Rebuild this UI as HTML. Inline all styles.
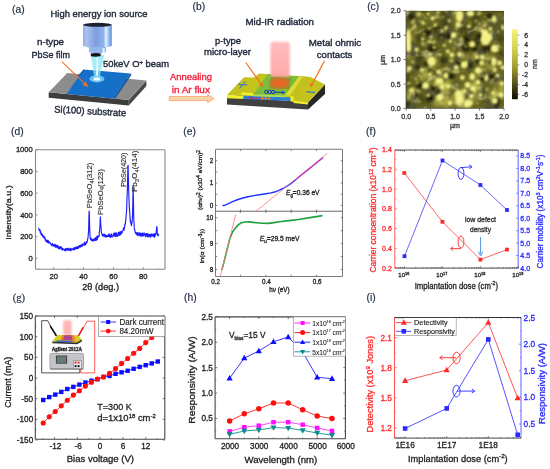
<!DOCTYPE html>
<html><head><meta charset="utf-8"><title>Figure</title>
<style>html,body{margin:0;padding:0;background:#fff;overflow:hidden}svg{display:block}</style>
</head><body>
<svg width="550" height="469" viewBox="0 0 550 469" font-family='"Liberation Sans", Arial, sans-serif'>
<defs><linearGradient id="cyl" x1="0" x2="1" y1="0" y2="0"><stop offset="0" stop-color="#8fb0e6"/><stop offset="0.12" stop-color="#a9c3f0"/><stop offset="0.45" stop-color="#7f9cdc"/><stop offset="0.72" stop-color="#8fb4ec"/><stop offset="0.80" stop-color="#e6f4ff"/><stop offset="0.88" stop-color="#9fc4f2"/><stop offset="1" stop-color="#5f8fd6"/></linearGradient><linearGradient id="beam" x1="0" x2="0" y1="0" y2="1"><stop offset="0" stop-color="#7fe6f6" stop-opacity="0.9"/><stop offset="1" stop-color="#c8f8ff" stop-opacity="0.9"/></linearGradient><radialGradient id="spot"><stop offset="0" stop-color="#ffffff"/><stop offset="0.45" stop-color="#aef4ff"/><stop offset="1" stop-color="#1f6fd0" stop-opacity="0"/></radialGradient><linearGradient id="ir" x1="0" x2="0" y1="0" y2="1"><stop offset="0" stop-color="#ffb6b6" stop-opacity="0.9"/><stop offset="1" stop-color="#ffa4a4" stop-opacity="0.95"/></linearGradient><radialGradient id="hot"><stop offset="0" stop-color="#ff5a1f"/><stop offset="0.6" stop-color="#ff7a3a" stop-opacity="0.8"/><stop offset="1" stop-color="#ff8a4a" stop-opacity="0"/></radialGradient><linearGradient id="cbar" x1="0" x2="0" y1="0" y2="1"><stop offset="0" stop-color="#f6f27c"/><stop offset="0.3" stop-color="#d2ce52"/><stop offset="0.55" stop-color="#9c9832"/><stop offset="0.8" stop-color="#4c4a18"/><stop offset="1" stop-color="#0a0a02"/></linearGradient><filter id="b1" x="-50%" y="-50%" width="200%" height="200%"><feGaussianBlur stdDeviation="0.7"/></filter><filter id="b09" x="-50%" y="-50%" width="200%" height="200%"><feGaussianBlur stdDeviation="0.9"/></filter><filter id="b15" x="-50%" y="-50%" width="200%" height="200%"><feGaussianBlur stdDeviation="1.7"/></filter><filter id="tdark" x="0" y="0" width="100%" height="100%"><feTurbulence type="fractalNoise" baseFrequency="0.11 0.07" numOctaves="2" seed="11" result="n"/><feColorMatrix in="n" type="matrix" values="0 0 0 0 0.09  0 0 0 0 0.09  0 0 0 0 0.03  3.8 0 0 0 -1.9"/></filter><filter id="tlight" x="0" y="0" width="100%" height="100%"><feTurbulence type="fractalNoise" baseFrequency="0.09 0.12" numOctaves="2" seed="23" result="n"/><feColorMatrix in="n" type="matrix" values="0 0 0 0 0.82  0 0 0 0 0.80  0 0 0 0 0.36  0 2.6 0 0 -1.35"/></filter><filter id="b12" x="-50%" y="-50%" width="200%" height="200%"><feGaussianBlur stdDeviation="1.1"/></filter><filter id="soft" x="0" y="0" width="100%" height="100%" filterUnits="userSpaceOnUse"><feGaussianBlur stdDeviation="0.35"/></filter><filter id="b2" x="-50%" y="-50%" width="200%" height="200%"><feGaussianBlur stdDeviation="1.6"/></filter><filter id="b3" x="-50%" y="-50%" width="200%" height="200%"><feGaussianBlur stdDeviation="2.6"/></filter><clipPath id="afmclip"><rect x="406" y="10.8" width="98" height="97.6"/></clipPath></defs>
<rect width="550" height="469" fill="#fff"/>
<g filter="url(#soft)">
<text x="12.10" y="12.65" font-size="10.3" fill="#25324a" stroke="#25324a" stroke-width="0.2">(a)</text>
<text x="50.50" y="17.00" font-size="9.6" fill="#1e2638" stroke="#1e2638" stroke-width="0.38" textLength="97" lengthAdjust="spacingAndGlyphs">High energy ion source</text>
<text x="37.00" y="44.60" font-size="9.6" fill="#1e2638" stroke="#1e2638" stroke-width="0.38" textLength="27" lengthAdjust="spacingAndGlyphs">n-type</text>
<text x="31.50" y="58.00" font-size="9.6" fill="#1e2638" stroke="#1e2638" stroke-width="0.38" textLength="38.5" lengthAdjust="spacingAndGlyphs">PbSe film</text>
<text x="103.00" y="67.00" font-size="9.6" fill="#1e2638" stroke="#1e2638" stroke-width="0.38" textLength="66" lengthAdjust="spacingAndGlyphs">50keV O<tspan font-size="6" dy="-3.5">+</tspan><tspan dy="3.5"> beam</tspan></text>
<text x="54.00" y="112.40" font-size="9.6" fill="#1e2638" stroke="#1e2638" stroke-width="0.38" textLength="72" lengthAdjust="spacingAndGlyphs" transform="rotate(3.2 54.00 112.40)">Si(100) substrate</text>
<polygon points="48.70,92.20 128.80,100.00 128.80,105.40 48.70,97.70" fill="#3d3d3d" stroke="none" stroke-width="0" />
<polygon points="128.80,100.00 146.40,80.50 146.40,85.90 128.80,105.40" fill="#4a4a4a" stroke="none" stroke-width="0" />
<polygon points="48.70,92.20 67.30,73.10 146.40,80.50 128.80,100.00" fill="#8c8c8c" stroke="none" stroke-width="0" />
<polygon points="66.70,93.90 83.60,69.60 130.40,73.40 113.90,98.50" fill="#1570c8" stroke="none" stroke-width="0" />
<polygon points="113.90,98.50 130.40,73.40 131.40,74.80 115.00,98.70" fill="#0b4f98" stroke="none" stroke-width="0" />
<polygon points="77.10,76.60 83.60,69.60 84.60,70.20 78.30,76.80" fill="#0c58a8" stroke="none" stroke-width="0" />
<path d="M83,25 L83,46 Q97.4,51 111.8,46 L111.8,25 Z" fill="url(#cyl)"/>
<path d="M89,47 L89,52.2 Q97.5,55 106,52.2 L106,47 Z" fill="#94b6ec"/>
<rect x="102.5" y="48" width="2.2" height="5" fill="#e8f6ff" opacity="0.9"/>
<ellipse cx="97.4" cy="24.8" rx="14.4" ry="2.0" fill="#1b2233"/>
<polygon points="90.80,55.50 104.20,55.50 99.20,79.00 94.60,79.00" fill="#8fe4f6" stroke="none" stroke-width="0" opacity="0.75" filter="url(#b1)"/>
<path d="M92,55.2 Q97,53 104,55.2 L104,57 Q97,58.5 92,57 Z" fill="#9fe6f8"/>
<path d="M90.8,53.6 Q95.5,52.6 100.6,53.4 L100.6,56 Q95.5,57.2 90.8,56.2 Z" fill="#141414"/>
<line x1="97.60" y1="57.00" x2="96.90" y2="77.50" stroke="#e6fcff" stroke-width="1.8" filter="url(#b1)"/>
<ellipse cx="96.9" cy="78.8" rx="7.5" ry="3.6" fill="#7fd8ff" opacity="0.8" filter="url(#b1)"/>
<ellipse cx="96.9" cy="79.2" rx="3.4" ry="1.4" fill="#ffffff" filter="url(#b1)"/>
<line x1="61.80" y1="61.60" x2="85.00" y2="83.80" stroke="#f07020" stroke-width="1.1" />
<polygon points="88.50,87.30 82.40,84.90 85.90,81.40" fill="#f07020" stroke="none" stroke-width="0" />
<text x="192.60" y="10.15" font-size="10.3" fill="#25324a" stroke="#25324a" stroke-width="0.2">(b)</text>
<text x="245.50" y="25.00" font-size="9.6" fill="#1e2638" stroke="#1e2638" stroke-width="0.38" textLength="68.5" lengthAdjust="spacingAndGlyphs">Mid-IR radiation</text>
<text x="215.00" y="43.60" font-size="9.6" fill="#1e2638" stroke="#1e2638" stroke-width="0.38" textLength="26" lengthAdjust="spacingAndGlyphs">p-type</text>
<text x="204.00" y="54.60" font-size="9.6" fill="#1e2638" stroke="#1e2638" stroke-width="0.38" textLength="47" lengthAdjust="spacingAndGlyphs">micro-layer</text>
<text x="308.70" y="45.80" font-size="9.6" fill="#1e2638" stroke="#1e2638" stroke-width="0.38" textLength="52.5" lengthAdjust="spacingAndGlyphs">Metal ohmic</text>
<text x="316.80" y="58.40" font-size="9.6" fill="#1e2638" stroke="#1e2638" stroke-width="0.38" textLength="35.6" lengthAdjust="spacingAndGlyphs">contacts</text>
<text x="169.90" y="80.40" font-size="9.8" fill="#f5203c" stroke="#f5203c" stroke-width="0.35" textLength="42" lengthAdjust="spacingAndGlyphs">Annealing</text>
<text x="171.70" y="92.50" font-size="9.8" fill="#f5203c" stroke="#f5203c" stroke-width="0.35" textLength="38.2" lengthAdjust="spacingAndGlyphs">in Ar flux</text>
<polygon points="169.20,96.60 207.70,96.60 207.70,94.60 214.10,98.60 207.70,102.60 207.70,100.60 169.20,100.60" fill="#fbd3b0" stroke="#f7a060" stroke-width="0.8" />
<polygon points="227.00,96.00 308.00,102.50 308.00,109.50 227.00,104.50" fill="#3f3f3f" stroke="none" stroke-width="0" />
<polygon points="308.00,102.50 325.00,84.50 325.00,94.00 308.00,109.50" fill="#262626" stroke="none" stroke-width="0" />
<polygon points="227.00,95.00 244.00,77.30 254.00,77.50 259.00,73.50 299.00,76.00 310.50,77.00 325.00,84.50 308.00,102.50" fill="#c4c21e" stroke="none" stroke-width="0" />
<polygon points="268.00,74.10 299.00,76.50 285.00,95.50 253.00,94.50" fill="#7abd3b" stroke="none" stroke-width="0" />
<polygon points="299.00,76.50 303.00,76.70 290.00,96.00 285.00,95.50" fill="#dddb34" stroke="none" stroke-width="0" />
<polygon points="303.00,76.70 310.50,77.00 297.00,97.00 290.00,96.00" fill="#c2c01b" stroke="none" stroke-width="0" />
<polygon points="227.00,95.00 243.50,96.40 243.50,98.90 227.00,98.30" fill="#efef2a" stroke="none" stroke-width="0" />
<polygon points="243.50,95.60 291.00,97.60 291.00,100.90 243.50,98.90" fill="#2a7ed8" stroke="none" stroke-width="0" />
<polygon points="241.50,92.30 253.00,93.00 253.00,95.70 241.50,95.00" fill="#efef2a" stroke="none" stroke-width="0" />
<polygon points="253.00,94.50 285.00,95.50 285.00,97.20 253.00,96.20" fill="#a6de5e" stroke="none" stroke-width="0" />
<polygon points="290.50,96.00 293.50,96.20 293.50,101.50 290.50,101.20" fill="#efef2a" stroke="none" stroke-width="0" />
<polygon points="293.50,100.80 308.00,102.40 308.00,104.60 293.50,103.10" fill="#efef2a" stroke="none" stroke-width="0" />
<rect x="270.4" y="41.8" width="19.4" height="35.5" rx="3" fill="url(#ir)" filter="url(#b12)"/>
<polygon points="271,77 291,77.5 289,89 269,88.5" fill="#b05a20" opacity="0.45" filter="url(#b1)"/>
<ellipse cx="279.5" cy="83.2" rx="9.5" ry="5" fill="#ee6420" opacity="0.9" filter="url(#b15)"/>
<circle cx="266.3" cy="91.8" r="1.65" fill="none" stroke="#1030c0" stroke-width="1.0"/>
<circle cx="269.7" cy="91.9" r="1.65" fill="none" stroke="#1030c0" stroke-width="1.0"/>
<circle cx="273.1" cy="92.0" r="1.65" fill="none" stroke="#1030c0" stroke-width="1.0"/>
<line x1="274.50" y1="92.10" x2="283.00" y2="92.40" stroke="#1030c0" stroke-width="1.0" />
<polygon points="285.20,92.50 282.00,91.00 282.00,93.90" fill="#1030c0" stroke="none" stroke-width="0" />
<ellipse cx="262.4" cy="98.40" rx="1.2" ry="1.4" fill="#f08020"/>
<ellipse cx="265.8" cy="98.55" rx="1.2" ry="1.4" fill="#f08020"/>
<ellipse cx="269.2" cy="98.70" rx="1.2" ry="1.4" fill="#f08020"/>
<line x1="250.50" y1="97.90" x2="261.00" y2="98.30" stroke="#e0206a" stroke-width="0.9" />
<polygon points="248.50,97.80 251.50,96.50 251.50,99.20" fill="#e02030" stroke="none" stroke-width="0" />
<line x1="238.30" y1="84.40" x2="247.50" y2="85.00" stroke="#3a78c4" stroke-width="1.1" />
<line x1="239.60" y1="88.30" x2="245.50" y2="81.50" stroke="#3a78c4" stroke-width="1.1" />
<line x1="306.30" y1="91.60" x2="315.00" y2="92.60" stroke="#3a78c4" stroke-width="1.2" />
<line x1="245.80" y1="62.50" x2="261.30" y2="84.40" stroke="#f07020" stroke-width="1.2" />
<polygon points="263.30,87.60 258.80,84.60 262.50,82.20" fill="#f07020" stroke="none" stroke-width="0" />
<line x1="324.50" y1="60.80" x2="311.80" y2="84.60" stroke="#f07020" stroke-width="1.2" />
<polygon points="310.20,87.60 310.10,82.80 313.70,84.50" fill="#f07020" stroke="none" stroke-width="0" />
<text x="367.20" y="10.15" font-size="10.3" fill="#25324a" stroke="#25324a" stroke-width="0.2">(c)</text>
<g clip-path="url(#afmclip)">
<rect x="406" y="10.8" width="98" height="97.6" fill="#676520"/>
<g filter="url(#b3)">
<ellipse cx="408.3" cy="45" rx="4" ry="14" fill="#c4c054" opacity="0.85"/>
<ellipse cx="459.5" cy="17" rx="3.5" ry="6" fill="#c4c054" opacity="0.85"/>
<ellipse cx="437" cy="92" rx="4" ry="15" fill="#c4c054" opacity="0.85"/>
<ellipse cx="411.5" cy="100" rx="5" ry="9" fill="#c4c054" opacity="0.85"/>
<ellipse cx="502" cy="89" rx="3" ry="10" fill="#c4c054" opacity="0.85"/>
<ellipse cx="462" cy="98" rx="10" ry="9" fill="#c4c054" opacity="0.85"/>
<ellipse cx="445" cy="85" rx="6" ry="8" fill="#c4c054" opacity="0.85"/>
<ellipse cx="475" cy="90" rx="5" ry="10" fill="#c4c054" opacity="0.85"/>
<ellipse cx="432" cy="62" rx="5" ry="5" fill="#c4c054" opacity="0.85"/>
<ellipse cx="445" cy="101" rx="5" ry="6" fill="#c4c054" opacity="0.85"/>
<ellipse cx="470" cy="60" rx="6" ry="5" fill="#c4c054" opacity="0.85"/>
<ellipse cx="490" cy="62" rx="5" ry="6" fill="#c4c054" opacity="0.85"/>
<ellipse cx="425" cy="75" rx="5" ry="4" fill="#c4c054" opacity="0.85"/>
<ellipse cx="480" cy="72" rx="5" ry="4" fill="#c4c054" opacity="0.85"/>
<ellipse cx="494" cy="96" rx="4" ry="6" fill="#c4c054" opacity="0.85"/>
<ellipse cx="411.5" cy="18" rx="4" ry="3" fill="#26250c" opacity="0.8"/>
<ellipse cx="427.5" cy="32.5" rx="4" ry="3" fill="#26250c" opacity="0.8"/>
<ellipse cx="447" cy="14.5" rx="6" ry="3" fill="#26250c" opacity="0.8"/>
<ellipse cx="441" cy="37" rx="4" ry="3" fill="#26250c" opacity="0.8"/>
<ellipse cx="466.7" cy="40" rx="3" ry="3" fill="#26250c" opacity="0.8"/>
<ellipse cx="478" cy="40" rx="3" ry="4" fill="#26250c" opacity="0.8"/>
<ellipse cx="415" cy="46" rx="4" ry="2.5" fill="#26250c" opacity="0.8"/>
<ellipse cx="422" cy="54" rx="4" ry="3" fill="#26250c" opacity="0.8"/>
<ellipse cx="442" cy="61" rx="3" ry="3" fill="#26250c" opacity="0.8"/>
<ellipse cx="469" cy="60" rx="3" ry="3" fill="#26250c" opacity="0.8"/>
<ellipse cx="499.8" cy="39.5" rx="3" ry="4" fill="#26250c" opacity="0.8"/>
<ellipse cx="455" cy="89" rx="3" ry="3" fill="#26250c" opacity="0.8"/>
<ellipse cx="450" cy="95.5" rx="3" ry="3" fill="#26250c" opacity="0.8"/>
<ellipse cx="466" cy="96" rx="3" ry="2.5" fill="#26250c" opacity="0.8"/>
<ellipse cx="481" cy="92" rx="3" ry="3" fill="#26250c" opacity="0.8"/>
<ellipse cx="486" cy="100" rx="3" ry="3" fill="#26250c" opacity="0.8"/>
<ellipse cx="489.5" cy="74.5" rx="3" ry="3" fill="#26250c" opacity="0.8"/>
<ellipse cx="420" cy="100" rx="4" ry="4" fill="#26250c" opacity="0.8"/>
<ellipse cx="476.5" cy="16.7" rx="3" ry="3" fill="#26250c" opacity="0.8"/>
<ellipse cx="489" cy="16" rx="3" ry="3" fill="#26250c" opacity="0.8"/>
<ellipse cx="433" cy="88" rx="3" ry="3" fill="#26250c" opacity="0.8"/>
<ellipse cx="430" cy="100" rx="3" ry="5" fill="#26250c" opacity="0.8"/>
<ellipse cx="406" cy="80" rx="2" ry="10" fill="#26250c" opacity="0.8"/>
<ellipse cx="446" cy="24" rx="5" ry="4" fill="#26250c" opacity="0.8"/>
<ellipse cx="470" cy="32" rx="4" ry="5" fill="#26250c" opacity="0.8"/>
<ellipse cx="430" cy="47" rx="6" ry="3" fill="#26250c" opacity="0.8"/>
<ellipse cx="465" cy="28" rx="3" ry="3" fill="#26250c" opacity="0.8"/>
<ellipse cx="498" cy="30" rx="3" ry="4" fill="#26250c" opacity="0.8"/>
<ellipse cx="475" cy="22" rx="3" ry="3" fill="#26250c" opacity="0.8"/>
<ellipse cx="418" cy="38" rx="4" ry="3" fill="#26250c" opacity="0.8"/>
<ellipse cx="437" cy="52" rx="3" ry="3" fill="#26250c" opacity="0.8"/>
<ellipse cx="460" cy="45" rx="4" ry="3" fill="#26250c" opacity="0.8"/>
<ellipse cx="484" cy="52" rx="4" ry="3" fill="#26250c" opacity="0.8"/>
<ellipse cx="500" cy="55" rx="3" ry="4" fill="#26250c" opacity="0.8"/>
<ellipse cx="419" cy="60" rx="3" ry="4" fill="#26250c" opacity="0.8"/>
</g>
<rect x="406" y="10.8" width="98" height="1.6" fill="#4e4c1e" filter="url(#b1)"/>
<rect x="406" y="10.8" width="98" height="97.6" filter="url(#tlight)" opacity="0.8"/>
<rect x="406" y="10.8" width="98" height="97.6" filter="url(#tdark)" opacity="1"/>
<g filter="url(#b15)">
<ellipse cx="427.5" cy="32.5" rx="2.86" ry="2.42" fill="#101004"/>
<ellipse cx="437" cy="29" rx="2.86" ry="2.42" fill="#101004"/>
<ellipse cx="447.9" cy="36.1" rx="2.99" ry="2.53" fill="#101004"/>
<ellipse cx="441.5" cy="36.5" rx="2.60" ry="2.20" fill="#101004"/>
<ellipse cx="466.7" cy="39" rx="2.99" ry="2.53" fill="#101004"/>
<ellipse cx="459.5" cy="29.9" rx="2.08" ry="1.76" fill="#101004"/>
<ellipse cx="480" cy="36" rx="3.12" ry="2.64" fill="#101004"/>
<ellipse cx="476.5" cy="42" rx="2.60" ry="2.20" fill="#101004"/>
<ellipse cx="489.9" cy="16.3" rx="2.34" ry="1.98" fill="#101004"/>
<ellipse cx="431.8" cy="49.3" rx="2.99" ry="2.53" fill="#101004"/>
<ellipse cx="426" cy="63.8" rx="2.47" ry="2.09" fill="#101004"/>
<ellipse cx="418" cy="67.4" rx="2.47" ry="2.09" fill="#101004"/>
<ellipse cx="459.1" cy="62.7" rx="2.60" ry="2.20" fill="#101004"/>
<ellipse cx="464.7" cy="47.8" rx="3.12" ry="2.64" fill="#101004"/>
<ellipse cx="474.4" cy="48.5" rx="2.73" ry="2.31" fill="#101004"/>
<ellipse cx="484.5" cy="48.5" rx="2.47" ry="2.09" fill="#101004"/>
<ellipse cx="488.9" cy="47.8" rx="2.47" ry="2.09" fill="#101004"/>
<ellipse cx="477.3" cy="61.6" rx="2.47" ry="2.09" fill="#101004"/>
<ellipse cx="488.9" cy="62.3" rx="2.47" ry="2.09" fill="#101004"/>
<ellipse cx="471" cy="65.5" rx="2.34" ry="1.98" fill="#101004"/>
<ellipse cx="419.5" cy="85.6" rx="3.12" ry="2.64" fill="#101004"/>
<ellipse cx="430.4" cy="98" rx="3.38" ry="2.86" fill="#101004"/>
<ellipse cx="417.3" cy="95.8" rx="2.47" ry="2.09" fill="#101004"/>
<ellipse cx="433.6" cy="88.4" rx="2.47" ry="2.09" fill="#101004"/>
<ellipse cx="451.5" cy="76.2" rx="2.99" ry="2.53" fill="#101004"/>
<ellipse cx="437.7" cy="92" rx="1.82" ry="1.54" fill="#101004"/>
<ellipse cx="491" cy="76.2" rx="2.47" ry="2.09" fill="#101004"/>
<ellipse cx="482.3" cy="79" rx="2.47" ry="2.09" fill="#101004"/>
<ellipse cx="407" cy="102" rx="2.08" ry="1.76" fill="#101004"/>
<ellipse cx="407" cy="106" rx="2.08" ry="1.76" fill="#101004"/>
<ellipse cx="498.8" cy="100" rx="2.08" ry="1.76" fill="#101004"/>
<ellipse cx="497.4" cy="103" rx="2.08" ry="1.76" fill="#101004"/>
<ellipse cx="496.3" cy="106" rx="1.82" ry="1.54" fill="#101004"/>
<ellipse cx="411" cy="16" rx="2.60" ry="2.20" fill="#101004"/>
<ellipse cx="444" cy="60" rx="2.34" ry="1.98" fill="#101004"/>
<ellipse cx="467" cy="49" rx="2.60" ry="2.20" fill="#101004"/>
</g>
<g filter="url(#b09)">
<circle cx="413" cy="22.3" r="2" fill="#d2ce6c" opacity="0.85"/>
<circle cx="418.8" cy="14" r="2.6" fill="#d2ce6c" opacity="0.85"/>
<circle cx="451.5" cy="60.5" r="2" fill="#d2ce6c" opacity="0.85"/>
<circle cx="412.6" cy="62" r="1.8" fill="#d2ce6c" opacity="0.85"/>
<circle cx="416" cy="32.5" r="1.3" fill="#d2ce6c" opacity="0.85"/>
<circle cx="424.2" cy="34" r="1.3" fill="#d2ce6c" opacity="0.85"/>
<circle cx="428.9" cy="28.5" r="1.2" fill="#d2ce6c" opacity="0.85"/>
<circle cx="475.8" cy="20.9" r="1.5" fill="#d2ce6c" opacity="0.85"/>
<circle cx="479.4" cy="23.8" r="1.5" fill="#d2ce6c" opacity="0.85"/>
<circle cx="484.5" cy="26.3" r="1.5" fill="#d2ce6c" opacity="0.85"/>
<circle cx="487" cy="89.2" r="1.5" fill="#d2ce6c" opacity="0.85"/>
<circle cx="457" cy="84.9" r="1.5" fill="#d2ce6c" opacity="0.85"/>
<circle cx="415.9" cy="78.4" r="1.5" fill="#d2ce6c" opacity="0.85"/>
<circle cx="417.3" cy="82.7" r="1.5" fill="#d2ce6c" opacity="0.85"/>
<circle cx="488.5" cy="59" r="1.5" fill="#d2ce6c" opacity="0.85"/>
<circle cx="479.4" cy="12.9" r="2" fill="#d2ce6c" opacity="0.85"/>
</g>
<g filter="url(#b09)">
<circle cx="432.6" cy="18.3" r="2.09" fill="#f6f28a"/>
<circle cx="428.2" cy="14" r="1.42" fill="#f6f28a"/>
<circle cx="423.1" cy="23" r="1.42" fill="#f6f28a"/>
<circle cx="435.5" cy="24.9" r="1.71" fill="#f6f28a"/>
<circle cx="414.8" cy="26" r="1.42" fill="#f6f28a"/>
<circle cx="431.1" cy="37.2" r="1.42" fill="#f6f28a"/>
<circle cx="422.8" cy="38.6" r="1.42" fill="#f6f28a"/>
<circle cx="429.7" cy="41.2" r="1.42" fill="#f6f28a"/>
<circle cx="434" cy="41.9" r="1.42" fill="#f6f28a"/>
<circle cx="458" cy="24.5" r="2.38" fill="#f6f28a"/>
<circle cx="468.9" cy="26.3" r="1.90" fill="#f6f28a"/>
<circle cx="469.5" cy="14" r="2.38" fill="#f6f28a"/>
<circle cx="453.7" cy="35" r="2.85" fill="#f6f28a"/>
<circle cx="446" cy="27.8" r="1.71" fill="#f6f28a"/>
<circle cx="449.3" cy="20.9" r="1.42" fill="#f6f28a"/>
<circle cx="441.7" cy="31" r="1.42" fill="#f6f28a"/>
<circle cx="450.4" cy="41.2" r="1.71" fill="#f6f28a"/>
<circle cx="437.7" cy="12" r="1.42" fill="#f6f28a"/>
<circle cx="471" cy="13" r="2.85" fill="#f6f28a"/>
<circle cx="490.3" cy="28.9" r="1.90" fill="#f6f28a"/>
<circle cx="503" cy="27.8" r="1.90" fill="#f6f28a"/>
<circle cx="416.6" cy="49.6" r="2.09" fill="#f6f28a"/>
<circle cx="434" cy="47.4" r="1.42" fill="#f6f28a"/>
<circle cx="422.8" cy="43.8" r="1.42" fill="#f6f28a"/>
<circle cx="409.4" cy="68.5" r="2.38" fill="#f6f28a"/>
<circle cx="422" cy="70" r="2.09" fill="#f6f28a"/>
<circle cx="430" cy="74.6" r="1.90" fill="#f6f28a"/>
<circle cx="438" cy="72" r="1.42" fill="#f6f28a"/>
<circle cx="451.9" cy="55" r="2.38" fill="#f6f28a"/>
<circle cx="459.5" cy="54.3" r="2.38" fill="#f6f28a"/>
<circle cx="447.9" cy="51.4" r="1.90" fill="#f6f28a"/>
<circle cx="464.2" cy="64.8" r="3.32" fill="#f6f28a"/>
<circle cx="456.2" cy="67.4" r="2.38" fill="#f6f28a"/>
<circle cx="439.9" cy="54.7" r="1.42" fill="#f6f28a"/>
<circle cx="444.3" cy="45.3" r="1.42" fill="#f6f28a"/>
<circle cx="438.8" cy="71.7" r="1.90" fill="#f6f28a"/>
<circle cx="446" cy="74.3" r="1.90" fill="#f6f28a"/>
<circle cx="494.7" cy="48.5" r="3.80" fill="#f6f28a"/>
<circle cx="472.2" cy="44.2" r="2.85" fill="#f6f28a"/>
<circle cx="476.9" cy="56.9" r="2.09" fill="#f6f28a"/>
<circle cx="482.3" cy="57.2" r="2.38" fill="#f6f28a"/>
<circle cx="499.7" cy="63" r="2.38" fill="#f6f28a"/>
<circle cx="481.6" cy="63" r="2.38" fill="#f6f28a"/>
<circle cx="478" cy="70.3" r="2.85" fill="#f6f28a"/>
<circle cx="494.7" cy="70" r="2.09" fill="#f6f28a"/>
<circle cx="503" cy="67.4" r="1.90" fill="#f6f28a"/>
<circle cx="472.2" cy="75" r="1.90" fill="#f6f28a"/>
<circle cx="425.7" cy="85.6" r="3.32" fill="#f6f28a"/>
<circle cx="411.5" cy="90.3" r="2.38" fill="#f6f28a"/>
<circle cx="428.2" cy="95.4" r="1.71" fill="#f6f28a"/>
<circle cx="439.9" cy="80.9" r="2.85" fill="#f6f28a"/>
<circle cx="445.7" cy="76.2" r="2.38" fill="#f6f28a"/>
<circle cx="462.4" cy="77.6" r="2.38" fill="#f6f28a"/>
<circle cx="467.5" cy="84.9" r="2.85" fill="#f6f28a"/>
<circle cx="458.8" cy="94" r="3.80" fill="#f6f28a"/>
<circle cx="459.5" cy="100.1" r="3.80" fill="#f6f28a"/>
<circle cx="467.5" cy="103.7" r="3.80" fill="#f6f28a"/>
<circle cx="439.9" cy="97.2" r="3.32" fill="#f6f28a"/>
<circle cx="442" cy="87" r="2.38" fill="#f6f28a"/>
<circle cx="448.2" cy="86.3" r="1.90" fill="#f6f28a"/>
<circle cx="464.6" cy="91" r="1.90" fill="#f6f28a"/>
<circle cx="450" cy="103" r="2.38" fill="#f6f28a"/>
<circle cx="472.2" cy="76.9" r="2.85" fill="#f6f28a"/>
<circle cx="478" cy="82.3" r="2.38" fill="#f6f28a"/>
<circle cx="472.9" cy="88.5" r="2.85" fill="#f6f28a"/>
<circle cx="471.5" cy="96.1" r="2.38" fill="#f6f28a"/>
<circle cx="470.7" cy="103" r="2.38" fill="#f6f28a"/>
<circle cx="480.5" cy="95" r="1.90" fill="#f6f28a"/>
<circle cx="493.6" cy="92.9" r="1.90" fill="#f6f28a"/>
<circle cx="494.7" cy="100.8" r="2.85" fill="#f6f28a"/>
<circle cx="501.2" cy="95" r="2.38" fill="#f6f28a"/>
<circle cx="501.9" cy="83.4" r="1.90" fill="#f6f28a"/>
<circle cx="497.6" cy="75.5" r="1.90" fill="#f6f28a"/>
<circle cx="457.1" cy="88.6" r="1.08" fill="#e8e47a"/>
<circle cx="434.8" cy="84.8" r="0.98" fill="#e8e47a"/>
<circle cx="470.5" cy="22.5" r="0.71" fill="#e8e47a"/>
<circle cx="443.9" cy="82.9" r="0.80" fill="#e8e47a"/>
<circle cx="455.2" cy="42.2" r="1.04" fill="#e8e47a"/>
<circle cx="497.7" cy="50.2" r="1.10" fill="#e8e47a"/>
<circle cx="413.0" cy="89.2" r="1.05" fill="#e8e47a"/>
<circle cx="421.5" cy="79.0" r="0.92" fill="#e8e47a"/>
<circle cx="498.7" cy="32.0" r="0.92" fill="#e8e47a"/>
<circle cx="491.7" cy="72.7" r="0.82" fill="#e8e47a"/>
<circle cx="414.9" cy="101.3" r="0.89" fill="#e8e47a"/>
<circle cx="502.6" cy="25.5" r="1.02" fill="#e8e47a"/>
<circle cx="485.1" cy="99.4" r="0.71" fill="#e8e47a"/>
<circle cx="442.7" cy="16.9" r="1.00" fill="#e8e47a"/>
<circle cx="441.0" cy="103.2" r="0.85" fill="#e8e47a"/>
<circle cx="481.3" cy="94.4" r="0.80" fill="#e8e47a"/>
<circle cx="460.5" cy="103.0" r="0.91" fill="#e8e47a"/>
<circle cx="441.5" cy="37.4" r="1.01" fill="#e8e47a"/>
<circle cx="425.5" cy="69.4" r="0.92" fill="#e8e47a"/>
<circle cx="460.1" cy="24.3" r="0.96" fill="#e8e47a"/>
<circle cx="495.0" cy="42.3" r="0.83" fill="#e8e47a"/>
<circle cx="494.3" cy="66.9" r="0.81" fill="#e8e47a"/>
<circle cx="407.9" cy="83.6" r="0.84" fill="#e8e47a"/>
<circle cx="451.8" cy="37.9" r="0.95" fill="#e8e47a"/>
<circle cx="477.0" cy="41.4" r="0.73" fill="#e8e47a"/>
<circle cx="501.7" cy="98.5" r="0.71" fill="#e8e47a"/>
<circle cx="461.2" cy="77.2" r="0.86" fill="#e8e47a"/>
<circle cx="477.2" cy="103.2" r="0.94" fill="#e8e47a"/>
<circle cx="444.6" cy="30.6" r="0.80" fill="#e8e47a"/>
<circle cx="421.5" cy="22.5" r="0.78" fill="#e8e47a"/>
<circle cx="487.8" cy="63.0" r="1.02" fill="#e8e47a"/>
<circle cx="495.3" cy="89.0" r="0.72" fill="#e8e47a"/>
<circle cx="495.9" cy="20.8" r="1.01" fill="#e8e47a"/>
<circle cx="487.5" cy="74.5" r="0.86" fill="#e8e47a"/>
<circle cx="414.2" cy="20.1" r="0.95" fill="#e8e47a"/>
<circle cx="430.2" cy="62.6" r="0.81" fill="#e8e47a"/>
<circle cx="422.7" cy="40.0" r="0.99" fill="#e8e47a"/>
<circle cx="453.7" cy="49.3" r="0.89" fill="#e8e47a"/>
<circle cx="460.2" cy="61.0" r="0.88" fill="#e8e47a"/>
<circle cx="499.9" cy="83.4" r="0.79" fill="#e8e47a"/>
<circle cx="437.6" cy="29.9" r="0.85" fill="#e8e47a"/>
<circle cx="409.7" cy="82.7" r="0.93" fill="#e8e47a"/>
<circle cx="447.6" cy="96.9" r="0.83" fill="#e8e47a"/>
<circle cx="462.5" cy="100.3" r="0.92" fill="#e8e47a"/>
<circle cx="465.8" cy="47.0" r="1.10" fill="#e8e47a"/>
<ellipse cx="408.3" cy="40" rx="2.4" ry="11" fill="#f4f088"/>
<ellipse cx="408.5" cy="47" rx="2.6" ry="5" fill="#f4f088"/>
<ellipse cx="459.5" cy="16" rx="3.5" ry="5.5" fill="#f4f088"/>
<ellipse cx="494" cy="19" rx="2.2" ry="3.5" fill="#f4f088"/>
<ellipse cx="431.5" cy="61.2" rx="4" ry="4.8" fill="#f4f088"/>
<ellipse cx="493.9" cy="61.6" rx="2.5" ry="4" fill="#f4f088"/>
<ellipse cx="486.3" cy="78" rx="2" ry="3" fill="#f4f088"/>
<ellipse cx="437.5" cy="81" rx="2" ry="3" fill="#f4f088"/>
<polygon points="480.5,29 486.5,29.5 489,33 492.5,37.5 490,42 487.5,45 482.5,45 480.5,40 481.5,34" fill="#f4f088"/>
</g>
</g>
<line x1="403.60" y1="108.40" x2="406.00" y2="108.40" stroke="#444" stroke-width="0.7" />
<text x="400.60" y="110.90" font-size="7" fill="#333" stroke="#333" stroke-width="0.3" text-anchor="end">0.0</text>
<line x1="406.20" y1="108.40" x2="406.20" y2="110.60" stroke="#444" stroke-width="0.7" />
<text x="406.20" y="119.20" font-size="7" fill="#333" stroke="#333" stroke-width="0.3" text-anchor="middle">0.0</text>
<line x1="403.60" y1="84.00" x2="406.00" y2="84.00" stroke="#444" stroke-width="0.7" />
<text x="400.60" y="86.50" font-size="7" fill="#333" stroke="#333" stroke-width="0.3" text-anchor="end">0.5</text>
<line x1="430.65" y1="108.40" x2="430.65" y2="110.60" stroke="#444" stroke-width="0.7" />
<text x="430.65" y="119.20" font-size="7" fill="#333" stroke="#333" stroke-width="0.3" text-anchor="middle">0.5</text>
<line x1="403.60" y1="59.60" x2="406.00" y2="59.60" stroke="#444" stroke-width="0.7" />
<text x="400.60" y="62.10" font-size="7" fill="#333" stroke="#333" stroke-width="0.3" text-anchor="end">1.0</text>
<line x1="455.10" y1="108.40" x2="455.10" y2="110.60" stroke="#444" stroke-width="0.7" />
<text x="455.10" y="119.20" font-size="7" fill="#333" stroke="#333" stroke-width="0.3" text-anchor="middle">1.0</text>
<line x1="403.60" y1="35.20" x2="406.00" y2="35.20" stroke="#444" stroke-width="0.7" />
<text x="400.60" y="37.70" font-size="7" fill="#333" stroke="#333" stroke-width="0.3" text-anchor="end">1.5</text>
<line x1="479.55" y1="108.40" x2="479.55" y2="110.60" stroke="#444" stroke-width="0.7" />
<text x="479.55" y="119.20" font-size="7" fill="#333" stroke="#333" stroke-width="0.3" text-anchor="middle">1.5</text>
<line x1="403.60" y1="10.80" x2="406.00" y2="10.80" stroke="#444" stroke-width="0.7" />
<text x="400.60" y="13.30" font-size="7" fill="#333" stroke="#333" stroke-width="0.3" text-anchor="end">2.0</text>
<line x1="504.00" y1="108.40" x2="504.00" y2="110.60" stroke="#444" stroke-width="0.7" />
<text x="504.00" y="119.20" font-size="7" fill="#333" stroke="#333" stroke-width="0.3" text-anchor="middle">2.0</text>
<line x1="406.00" y1="10.80" x2="406.00" y2="108.40" stroke="#444" stroke-width="0.7" />
<line x1="406.00" y1="108.40" x2="504.00" y2="108.40" stroke="#444" stroke-width="0.7" />
<text x="455.00" y="128.10" font-size="7" fill="#333" stroke="#333" stroke-width="0.3" text-anchor="middle">µm</text>
<text x="385.30" y="59.90" font-size="7" fill="#333" stroke="#333" stroke-width="0.3" text-anchor="middle" transform="rotate(-90 385.30 59.90)">µm</text>
<rect x="512" y="29.4" width="5.8" height="69.8" fill="url(#cbar)"/>
<line x1="517.80" y1="35.20" x2="519.20" y2="35.20" stroke="#444" stroke-width="0.6" />
<text x="528.00" y="37.50" font-size="6.8" fill="#333" stroke="#333" stroke-width="0.3" text-anchor="end">6</text>
<line x1="517.80" y1="45.08" x2="519.20" y2="45.08" stroke="#444" stroke-width="0.6" />
<text x="528.00" y="47.38" font-size="6.8" fill="#333" stroke="#333" stroke-width="0.3" text-anchor="end">4</text>
<line x1="517.80" y1="54.96" x2="519.20" y2="54.96" stroke="#444" stroke-width="0.6" />
<text x="528.00" y="57.26" font-size="6.8" fill="#333" stroke="#333" stroke-width="0.3" text-anchor="end">2</text>
<line x1="517.80" y1="64.84" x2="519.20" y2="64.84" stroke="#444" stroke-width="0.6" />
<text x="528.00" y="67.14" font-size="6.8" fill="#333" stroke="#333" stroke-width="0.3" text-anchor="end">0</text>
<line x1="517.80" y1="74.72" x2="519.20" y2="74.72" stroke="#444" stroke-width="0.6" />
<text x="528.00" y="77.02" font-size="6.8" fill="#333" stroke="#333" stroke-width="0.3" text-anchor="end">-2</text>
<line x1="517.80" y1="84.60" x2="519.20" y2="84.60" stroke="#444" stroke-width="0.6" />
<text x="528.00" y="86.90" font-size="6.8" fill="#333" stroke="#333" stroke-width="0.3" text-anchor="end">-4</text>
<line x1="517.80" y1="94.48" x2="519.20" y2="94.48" stroke="#444" stroke-width="0.6" />
<text x="528.00" y="96.78" font-size="6.8" fill="#333" stroke="#333" stroke-width="0.3" text-anchor="end">-6</text>
<text x="537.10" y="64.10" font-size="7.5" fill="#333" stroke="#333" stroke-width="0.3" text-anchor="middle" textLength="9.6" lengthAdjust="spacingAndGlyphs" transform="rotate(-90 537.10 64.10)">nm</text>
<text x="11.10" y="134.95" font-size="10.3" fill="#25324a" stroke="#25324a" stroke-width="0.2">(d)</text>
<line x1="35.50" y1="149.70" x2="165.00" y2="149.70" stroke="#888" stroke-width="1.1" />
<line x1="35.50" y1="269.30" x2="165.00" y2="269.30" stroke="#888" stroke-width="1.1" />
<line x1="35.50" y1="149.70" x2="35.50" y2="269.30" stroke="#888" stroke-width="1.1" />
<line x1="165.00" y1="149.70" x2="165.00" y2="269.30" stroke="#888" stroke-width="1.1" />
<line x1="35.50" y1="258.50" x2="37.70" y2="258.50" stroke="#888" stroke-width="0.8" />
<text x="32.80" y="261.20" font-size="7.6" fill="#222" stroke="#222" stroke-width="0.3" text-anchor="end">0</text>
<line x1="35.50" y1="236.74" x2="37.70" y2="236.74" stroke="#888" stroke-width="0.8" />
<text x="32.80" y="239.44" font-size="7.6" fill="#222" stroke="#222" stroke-width="0.3" text-anchor="end">200</text>
<line x1="35.50" y1="214.98" x2="37.70" y2="214.98" stroke="#888" stroke-width="0.8" />
<text x="32.80" y="217.68" font-size="7.6" fill="#222" stroke="#222" stroke-width="0.3" text-anchor="end">400</text>
<line x1="35.50" y1="193.22" x2="37.70" y2="193.22" stroke="#888" stroke-width="0.8" />
<text x="32.80" y="195.92" font-size="7.6" fill="#222" stroke="#222" stroke-width="0.3" text-anchor="end">600</text>
<line x1="35.50" y1="171.46" x2="37.70" y2="171.46" stroke="#888" stroke-width="0.8" />
<text x="32.80" y="174.16" font-size="7.6" fill="#222" stroke="#222" stroke-width="0.3" text-anchor="end">800</text>
<line x1="35.50" y1="149.70" x2="37.70" y2="149.70" stroke="#888" stroke-width="0.8" />
<text x="32.80" y="152.40" font-size="7.6" fill="#222" stroke="#222" stroke-width="0.3" text-anchor="end">1000</text>
<line x1="53.70" y1="269.30" x2="53.70" y2="267.10" stroke="#888" stroke-width="0.8" />
<text x="53.70" y="279.20" font-size="7.6" fill="#222" stroke="#222" stroke-width="0.3" text-anchor="middle">20</text>
<line x1="83.57" y1="269.30" x2="83.57" y2="267.10" stroke="#888" stroke-width="0.8" />
<text x="83.57" y="279.20" font-size="7.6" fill="#222" stroke="#222" stroke-width="0.3" text-anchor="middle">40</text>
<line x1="113.43" y1="269.30" x2="113.43" y2="267.10" stroke="#888" stroke-width="0.8" />
<text x="113.43" y="279.20" font-size="7.6" fill="#222" stroke="#222" stroke-width="0.3" text-anchor="middle">60</text>
<line x1="143.30" y1="269.30" x2="143.30" y2="267.10" stroke="#888" stroke-width="0.8" />
<text x="143.30" y="279.20" font-size="7.6" fill="#222" stroke="#222" stroke-width="0.3" text-anchor="middle">80</text>
<line x1="38.77" y1="269.30" x2="38.77" y2="268.10" stroke="#888" stroke-width="0.7" />
<line x1="68.63" y1="269.30" x2="68.63" y2="268.10" stroke="#888" stroke-width="0.7" />
<line x1="98.50" y1="269.30" x2="98.50" y2="268.10" stroke="#888" stroke-width="0.7" />
<line x1="128.37" y1="269.30" x2="128.37" y2="268.10" stroke="#888" stroke-width="0.7" />
<line x1="158.23" y1="269.30" x2="158.23" y2="268.10" stroke="#888" stroke-width="0.7" />
<text x="11.50" y="212.40" font-size="8" fill="#222" stroke="#222" stroke-width="0.3" text-anchor="middle" textLength="54.5" lengthAdjust="spacingAndGlyphs" transform="rotate(-90 11.50 212.40)">Intensity(a.u.)</text>
<text x="100.60" y="290.20" font-size="8.8" fill="#222" stroke="#222" stroke-width="0.3" text-anchor="middle" textLength="36.8" lengthAdjust="spacingAndGlyphs">2θ (deg.)</text>
<polyline points="38.60,227.88 38.85,229.25 39.10,229.19 39.35,230.35 39.60,230.87 39.85,229.65 40.10,229.95 40.35,232.88 40.60,231.61 40.85,231.99 41.10,234.73 41.35,233.61 41.60,235.12 41.85,234.38 42.10,235.21 42.35,234.09 42.60,235.88 42.85,236.92 43.10,236.23 43.35,237.22 43.60,237.35 43.85,235.87 44.10,238.30 44.35,238.14 44.60,237.61 44.85,237.14 45.10,239.98 45.35,239.14 45.60,240.22 45.85,241.04 46.10,240.76 46.35,241.56 46.60,240.16 46.85,241.55 47.10,240.66 47.35,242.31 47.60,242.32 47.85,240.15 48.10,240.44 48.35,240.86 48.60,243.28 48.85,241.87 49.10,242.62 49.35,241.82 49.60,242.62 49.85,242.43 50.10,242.50 50.35,243.38 50.60,243.56 50.85,244.69 51.10,244.20 51.35,245.12 51.60,245.04 51.85,245.57 52.10,244.73 52.35,243.33 52.60,245.55 52.85,245.99 53.10,245.93 53.35,245.05 53.60,245.61 53.85,244.23 54.10,246.21 54.35,245.56 54.60,244.82 54.85,244.28 55.10,246.78 55.35,247.31 55.60,244.73 55.85,246.99 56.10,245.95 56.35,245.29 56.60,245.85 56.85,247.39 57.10,247.80 57.35,245.42 57.60,247.23 57.85,245.62 58.10,247.74 58.35,246.68 58.60,248.43 58.85,248.82 59.10,247.50 59.35,249.08 59.60,247.11 59.85,246.51 60.10,248.18 60.35,246.57 60.60,247.17 60.85,247.90 61.10,248.61 61.35,247.35 61.60,247.11 61.85,249.68 62.10,248.12 62.35,250.14 62.60,250.01 62.85,248.50 63.10,248.80 63.35,249.03 63.60,249.45 63.85,249.36 64.10,249.30 64.35,249.53 64.60,250.54 64.85,249.29 65.10,249.12 65.35,250.03 65.60,248.64 65.85,248.88 66.10,250.96 66.35,249.64 66.60,249.77 66.85,248.21 67.10,249.47 67.35,250.01 67.60,248.39 67.85,250.18 68.10,250.20 68.35,248.46 68.60,250.14 68.85,249.64 69.10,250.25 69.35,249.25 69.60,250.29 69.85,250.36 70.10,248.19 70.35,248.28 70.60,250.10 70.85,250.94 71.10,248.78 71.35,249.37 71.60,249.76 71.85,248.91 72.10,249.02 72.35,248.84 72.60,248.99 72.85,249.64 73.10,248.73 73.35,248.89 73.60,249.98 73.85,247.64 74.10,249.16 74.35,249.55 74.60,248.18 74.85,247.81 75.10,249.45 75.35,247.65 75.60,247.39 75.85,248.03 76.10,248.72 76.35,246.82 76.60,247.38 76.85,247.31 77.10,248.71 77.35,247.42 77.60,248.56 77.85,246.40 78.10,246.80 78.35,247.63 78.60,248.23 78.85,246.80 79.10,245.99 79.35,245.55 79.60,246.64 79.85,245.49 80.10,247.21 80.35,247.17 80.60,245.07 80.85,245.22 81.10,246.68 81.35,246.04 81.60,246.40 81.85,244.88 82.10,244.10 82.35,244.45 82.60,245.81 82.85,244.11 83.10,244.19 83.35,244.26 83.60,244.12 83.85,243.94 84.10,245.32 84.35,242.87 84.60,242.26 84.85,244.92 85.10,244.56 85.35,244.70 85.60,242.85 85.85,244.19 86.10,243.90 86.35,241.53 86.60,242.82 86.85,242.75 87.10,241.82 87.35,240.86 87.60,239.47 87.85,238.61 88.10,236.66 88.35,233.42 88.60,229.87 88.85,219.64 89.10,210.97 89.35,212.60 89.60,226.16 89.85,232.47 90.10,236.76 90.35,238.59 90.60,239.69 90.85,239.36 91.10,238.07 91.35,240.51 91.60,238.93 91.85,239.40 92.10,240.53 92.35,240.11 92.60,239.76 92.85,241.29 93.10,240.26 93.35,239.38 93.60,239.04 93.85,240.79 94.10,239.55 94.35,240.37 94.60,238.98 94.85,238.42 95.10,239.37 95.35,240.44 95.60,237.62 95.85,240.10 96.10,240.52 96.35,239.91 96.60,239.84 96.85,236.27 97.10,238.71 97.35,239.52 97.60,235.91 97.85,236.62 98.10,236.34 98.35,237.12 98.60,236.28 98.85,235.95 99.10,236.47 99.35,232.06 99.60,230.40 99.85,227.50 100.10,222.31 100.35,216.77 100.60,221.57 100.85,226.69 101.10,227.89 101.35,232.21 101.60,232.86 101.85,233.69 102.10,234.34 102.35,235.88 102.60,235.81 102.85,234.97 103.10,234.33 103.35,235.00 103.60,234.21 103.85,236.07 104.10,236.77 104.35,235.38 104.60,234.14 104.85,234.56 105.10,235.38 105.35,236.35 105.60,237.09 105.85,235.39 106.10,237.15 106.35,236.39 106.60,235.57 106.85,235.30 107.10,235.80 107.35,236.65 107.60,235.44 107.85,236.57 108.10,235.57 108.35,234.64 108.60,235.84 108.85,236.48 109.10,233.84 109.35,235.29 109.60,235.27 109.85,237.15 110.10,237.36 110.35,234.98 110.60,237.16 110.85,236.69 111.10,234.44 111.35,235.27 111.60,233.81 111.85,236.69 112.10,236.03 112.35,236.95 112.60,236.52 112.85,235.97 113.10,236.22 113.35,235.47 113.60,233.51 113.85,235.51 114.10,233.03 114.35,233.58 114.60,236.19 114.85,233.09 115.10,233.25 115.35,233.24 115.60,236.48 115.85,233.49 116.10,232.79 116.35,236.17 116.60,233.10 116.85,236.08 117.10,235.31 117.35,235.93 117.60,236.36 117.85,234.72 118.10,235.57 118.35,232.30 118.60,235.29 118.85,234.13 119.10,234.89 119.35,232.24 119.60,234.83 119.85,235.50 120.10,231.70 120.35,232.67 120.60,233.53 120.85,234.48 121.10,231.85 121.35,231.39 121.60,231.48 121.85,232.78 122.10,233.10 122.35,231.30 122.60,230.87 122.85,230.63 123.10,230.03 123.35,229.85 123.60,227.92 123.85,229.06 124.10,230.35 124.35,227.18 124.60,227.64 124.85,224.06 125.10,224.98 125.35,223.71 125.60,221.51 125.85,218.62 126.10,215.80 126.35,213.21 126.60,210.32 126.85,202.30 127.10,195.93 127.35,190.53 127.60,180.16 127.85,166.62 128.10,165.21 128.35,177.56 128.60,186.74 128.85,195.51 129.10,201.51 129.35,208.08 129.60,210.92 129.85,213.81 130.10,218.37 130.35,221.59 130.60,220.53 130.85,223.57 131.10,223.32 131.35,225.79 131.60,224.88 131.85,223.21 132.10,221.79 132.35,218.14 132.60,213.85 132.85,200.93 133.10,186.54 133.35,195.74 133.60,211.02 133.85,221.76 134.10,223.66 134.35,229.76 134.60,229.16 134.85,230.69 135.10,230.86 135.35,232.94 135.60,233.30 135.85,232.52 136.10,232.47 136.35,233.71 136.60,234.48 136.85,232.74 137.10,234.29 137.35,235.38 137.60,233.43 137.85,232.54 138.10,232.66 138.35,234.78 138.60,234.68 138.85,235.95 139.10,235.58 139.35,233.08 139.60,232.92 139.85,233.26 140.10,233.01 140.35,235.24 140.60,235.93 140.85,236.15 141.10,233.48 141.35,236.09 141.60,233.81 141.85,234.30 142.10,235.62 142.35,232.95 142.60,233.01 142.85,236.16 143.10,233.91 143.35,234.21 143.60,235.17 143.85,235.60 144.10,232.81 144.35,234.22 144.60,234.66 144.85,234.89 145.10,233.76 145.35,235.35 145.60,236.93 145.85,234.58 146.10,235.24 146.35,233.47 146.60,234.14 146.85,235.80 147.10,233.50 147.35,236.77 147.60,236.87 147.85,233.48 148.10,237.04 148.35,234.67 148.60,236.36 148.85,236.31 149.10,234.38 149.35,235.99 149.60,235.91 149.85,236.56 150.10,234.30 150.35,236.37 150.60,237.25 150.85,236.05 151.10,235.49 151.35,233.72 151.60,235.33 151.85,234.75 152.10,236.29 152.35,236.13 152.60,235.66 152.85,234.05 153.10,236.00 153.35,235.93 153.60,234.03 153.85,237.00 154.10,235.99 154.35,233.72 154.60,237.06 154.85,233.66 155.10,234.34 155.35,235.79 155.60,234.96 155.85,234.23 156.10,233.59 156.35,230.84 156.60,227.45 156.85,226.67 157.10,228.98 157.35,233.80 157.60,235.08 157.85,234.80 158.10,235.98 158.35,234.61 158.60,234.37 158.85,234.97" fill="none" stroke="#1f1fff" stroke-width="1.15" stroke-linejoin="round" />
<text x="92.20" y="208.20" font-size="7.6" fill="#2a2a2a" stroke="#2a2a2a" stroke-width="0.12" transform="rotate(-90 92.20 208.20)" textLength="45.5" lengthAdjust="spacingAndGlyphs">PbSeO<tspan font-size="5.5" dy="1.5">4</tspan><tspan dy="-1.5">(312)</tspan></text>
<text x="102.90" y="215.00" font-size="7.6" fill="#2a2a2a" stroke="#2a2a2a" stroke-width="0.12" transform="rotate(-90 102.90 215.00)" textLength="46" lengthAdjust="spacingAndGlyphs">PbSeO<tspan font-size="5.5" dy="1.5">4</tspan><tspan dy="-1.5">(123)</tspan></text>
<text x="125.80" y="186.80" font-size="7.6" fill="#2a2a2a" stroke="#2a2a2a" stroke-width="0.12" transform="rotate(-90 125.80 186.80)" textLength="34.3" lengthAdjust="spacingAndGlyphs">PbSe(420)</text>
<text x="137.20" y="192.00" font-size="7.6" fill="#2a2a2a" stroke="#2a2a2a" stroke-width="0.12" transform="rotate(-90 137.20 192.00)" textLength="41.5" lengthAdjust="spacingAndGlyphs">Pb<tspan font-size="5.5" dy="1.5">3</tspan><tspan dy="-1.5">O</tspan><tspan font-size="5.5" dy="1.5">4</tspan><tspan dy="-1.5">(414)</tspan></text>
<text x="183.30" y="134.95" font-size="10.3" fill="#25324a" stroke="#25324a" stroke-width="0.2">(e)</text>
<line x1="215.50" y1="149.30" x2="342.50" y2="149.30" stroke="#7a7a7a" stroke-width="1.05" />
<line x1="215.50" y1="276.40" x2="342.50" y2="276.40" stroke="#7a7a7a" stroke-width="1.05" />
<line x1="215.50" y1="149.30" x2="215.50" y2="276.40" stroke="#7a7a7a" stroke-width="1.05" />
<line x1="342.50" y1="149.30" x2="342.50" y2="276.40" stroke="#7a7a7a" stroke-width="1.05" />
<line x1="215.50" y1="211.20" x2="342.50" y2="211.20" stroke="#6a6a6a" stroke-width="1.05" />
<line x1="240.40" y1="149.30" x2="240.40" y2="151.10" stroke="#555" stroke-width="0.7" />
<line x1="240.40" y1="211.20" x2="240.40" y2="209.40" stroke="#555" stroke-width="0.7" />
<line x1="240.40" y1="211.20" x2="240.40" y2="213.00" stroke="#555" stroke-width="0.7" />
<line x1="240.40" y1="276.40" x2="240.40" y2="274.60" stroke="#555" stroke-width="0.7" />
<line x1="265.80" y1="149.30" x2="265.80" y2="151.10" stroke="#555" stroke-width="0.7" />
<line x1="265.80" y1="211.20" x2="265.80" y2="209.40" stroke="#555" stroke-width="0.7" />
<line x1="265.80" y1="211.20" x2="265.80" y2="213.00" stroke="#555" stroke-width="0.7" />
<line x1="265.80" y1="276.40" x2="265.80" y2="274.60" stroke="#555" stroke-width="0.7" />
<line x1="291.20" y1="149.30" x2="291.20" y2="151.10" stroke="#555" stroke-width="0.7" />
<line x1="291.20" y1="211.20" x2="291.20" y2="209.40" stroke="#555" stroke-width="0.7" />
<line x1="291.20" y1="211.20" x2="291.20" y2="213.00" stroke="#555" stroke-width="0.7" />
<line x1="291.20" y1="276.40" x2="291.20" y2="274.60" stroke="#555" stroke-width="0.7" />
<line x1="316.60" y1="149.30" x2="316.60" y2="151.10" stroke="#555" stroke-width="0.7" />
<line x1="316.60" y1="211.20" x2="316.60" y2="209.40" stroke="#555" stroke-width="0.7" />
<line x1="316.60" y1="211.20" x2="316.60" y2="213.00" stroke="#555" stroke-width="0.7" />
<line x1="316.60" y1="276.40" x2="316.60" y2="274.60" stroke="#555" stroke-width="0.7" />
<line x1="215.50" y1="205.40" x2="217.30" y2="205.40" stroke="#555" stroke-width="0.7" />
<line x1="342.50" y1="205.40" x2="340.70" y2="205.40" stroke="#555" stroke-width="0.7" />
<line x1="215.50" y1="194.22" x2="217.30" y2="194.22" stroke="#555" stroke-width="0.7" />
<line x1="342.50" y1="194.22" x2="340.70" y2="194.22" stroke="#555" stroke-width="0.7" />
<line x1="215.50" y1="183.05" x2="217.30" y2="183.05" stroke="#555" stroke-width="0.7" />
<line x1="342.50" y1="183.05" x2="340.70" y2="183.05" stroke="#555" stroke-width="0.7" />
<line x1="215.50" y1="171.88" x2="217.30" y2="171.88" stroke="#555" stroke-width="0.7" />
<line x1="342.50" y1="171.88" x2="340.70" y2="171.88" stroke="#555" stroke-width="0.7" />
<line x1="215.50" y1="160.70" x2="217.30" y2="160.70" stroke="#555" stroke-width="0.7" />
<line x1="342.50" y1="160.70" x2="340.70" y2="160.70" stroke="#555" stroke-width="0.7" />
<text x="213.20" y="207.60" font-size="6.3" fill="#222" stroke="#222" stroke-width="0.3" text-anchor="end">0</text>
<text x="213.20" y="185.25" font-size="6.3" fill="#222" stroke="#222" stroke-width="0.3" text-anchor="end">1</text>
<text x="213.20" y="162.90" font-size="6.3" fill="#222" stroke="#222" stroke-width="0.3" text-anchor="end">2</text>
<line x1="215.50" y1="269.50" x2="217.30" y2="269.50" stroke="#555" stroke-width="0.7" />
<line x1="342.50" y1="269.50" x2="340.70" y2="269.50" stroke="#555" stroke-width="0.7" />
<line x1="215.50" y1="256.55" x2="217.30" y2="256.55" stroke="#555" stroke-width="0.7" />
<line x1="342.50" y1="256.55" x2="340.70" y2="256.55" stroke="#555" stroke-width="0.7" />
<line x1="215.50" y1="243.60" x2="217.30" y2="243.60" stroke="#555" stroke-width="0.7" />
<line x1="342.50" y1="243.60" x2="340.70" y2="243.60" stroke="#555" stroke-width="0.7" />
<line x1="215.50" y1="230.65" x2="217.30" y2="230.65" stroke="#555" stroke-width="0.7" />
<line x1="342.50" y1="230.65" x2="340.70" y2="230.65" stroke="#555" stroke-width="0.7" />
<line x1="215.50" y1="217.70" x2="217.30" y2="217.70" stroke="#555" stroke-width="0.7" />
<line x1="342.50" y1="217.70" x2="340.70" y2="217.70" stroke="#555" stroke-width="0.7" />
<text x="213.20" y="271.70" font-size="6.3" fill="#222" stroke="#222" stroke-width="0.3" text-anchor="end">8</text>
<text x="213.20" y="245.80" font-size="6.3" fill="#222" stroke="#222" stroke-width="0.3" text-anchor="end">9</text>
<text x="213.20" y="219.90" font-size="6.3" fill="#222" stroke="#222" stroke-width="0.3" text-anchor="end">10</text>
<text x="215.60" y="284.30" font-size="6.3" fill="#222" stroke="#222" stroke-width="0.3" text-anchor="middle">0.2</text>
<text x="266.40" y="284.30" font-size="6.3" fill="#222" stroke="#222" stroke-width="0.3" text-anchor="middle">0.4</text>
<text x="317.20" y="284.30" font-size="6.3" fill="#222" stroke="#222" stroke-width="0.3" text-anchor="middle">0.6</text>
<text x="279.50" y="291.60" font-size="6.3" fill="#222" stroke="#222" stroke-width="0.3" text-anchor="middle">hν (eV)</text>
<text x="202.2" y="180" font-size="6.2" fill="#222" text-anchor="middle" transform="rotate(-90 202.2 180)" textLength="60" lengthAdjust="spacingAndGlyphs" stroke="#222" stroke-width="0.3">(αhν)<tspan font-size="4.5" dy="-2.5">2</tspan><tspan dy="2.5"> (x10</tspan><tspan font-size="4.5" dy="-2.5">4</tspan><tspan dy="2.5"> eV/cm)</tspan><tspan font-size="4.5" dy="-2.5">2</tspan></text>
<text x="204" y="246" font-size="6.2" fill="#222" text-anchor="middle" transform="rotate(-90 204 246)" textLength="34.5" lengthAdjust="spacingAndGlyphs" stroke="#222" stroke-width="0.3">ln(α (cm<tspan font-size="4.5" dy="-2.5">-1</tspan><tspan dy="2.5">))</tspan></text>
<polyline points="222.40,205.50 225.00,205.20 228.00,203.80 232.50,201.60 238.00,199.50 243.00,198.00 247.90,196.80 254.00,195.60 261.10,194.50 266.00,193.70 271.00,192.90 275.50,191.80 279.30,190.20 283.00,188.50 285.90,186.90 288.50,185.20 290.80,183.60 293.50,181.50 296.50,179.30" fill="none" stroke="#1f30ff" stroke-width="1.4" stroke-linejoin="round" />
<line x1="256.00" y1="211.20" x2="327.20" y2="153.40" stroke="#ff7a7a" stroke-width="0.8" />
<line x1="296.50" y1="179.10" x2="323.30" y2="157.40" stroke="#b030c0" stroke-width="1.3" />
<text x="286.00" y="194.80" font-size="7" fill="#222" stroke="#222" stroke-width="0.3" textLength="33.5" lengthAdjust="spacingAndGlyphs"><tspan font-style="italic">E</tspan><tspan font-size="4.6" dy="1.8">g</tspan><tspan dy="-1.8">=0.36 eV</tspan></text>
<polyline points="221.80,270.00 224.00,262.00 226.20,253.00 228.20,245.00 229.90,238.40 232.50,232.00 235.70,227.80 238.50,224.60 241.40,222.80 245.00,222.00 249.00,221.90 253.00,222.40 256.80,222.80 262.00,223.30 268.30,223.40 274.00,222.60 279.20,221.80 289.00,220.60 298.40,219.50 310.00,217.60 322.40,215.60" fill="none" stroke="#20a040" stroke-width="1.6" stroke-linejoin="round" />
<line x1="220.30" y1="276.40" x2="235.70" y2="214.40" stroke="#ff7a7a" stroke-width="0.8" />
<text x="259.80" y="241.20" font-size="7" fill="#222" stroke="#222" stroke-width="0.3" textLength="39.6" lengthAdjust="spacingAndGlyphs"><tspan font-style="italic">E</tspan><tspan font-size="4.6" dy="1.8">u</tspan><tspan dy="-1.8">=29.5 meV</tspan></text>
<text x="366.10" y="134.95" font-size="10.3" fill="#25324a" stroke="#25324a" stroke-width="0.2">(f)</text>
<line x1="394.80" y1="150.00" x2="518.20" y2="150.00" stroke="#333" stroke-width="0.9" />
<line x1="394.80" y1="268.10" x2="518.20" y2="268.10" stroke="#333" stroke-width="0.9" />
<line x1="394.80" y1="150.00" x2="394.80" y2="268.10" stroke="#ff5050" stroke-width="0.9" />
<line x1="518.20" y1="150.00" x2="518.20" y2="268.10" stroke="#5050ff" stroke-width="0.9" />
<line x1="395.87" y1="150.00" x2="395.87" y2="151.10" stroke="#333" stroke-width="0.6" />
<line x1="395.87" y1="268.10" x2="395.87" y2="267.00" stroke="#333" stroke-width="0.6" />
<line x1="398.41" y1="150.00" x2="398.41" y2="151.10" stroke="#333" stroke-width="0.6" />
<line x1="398.41" y1="268.10" x2="398.41" y2="267.00" stroke="#333" stroke-width="0.6" />
<line x1="400.62" y1="150.00" x2="400.62" y2="151.10" stroke="#333" stroke-width="0.6" />
<line x1="400.62" y1="268.10" x2="400.62" y2="267.00" stroke="#333" stroke-width="0.6" />
<line x1="402.56" y1="150.00" x2="402.56" y2="151.10" stroke="#333" stroke-width="0.6" />
<line x1="402.56" y1="268.10" x2="402.56" y2="267.00" stroke="#333" stroke-width="0.6" />
<line x1="404.30" y1="150.00" x2="404.30" y2="152.00" stroke="#333" stroke-width="0.6" />
<line x1="404.30" y1="268.10" x2="404.30" y2="266.10" stroke="#333" stroke-width="0.6" />
<line x1="415.74" y1="150.00" x2="415.74" y2="151.10" stroke="#333" stroke-width="0.6" />
<line x1="415.74" y1="268.10" x2="415.74" y2="267.00" stroke="#333" stroke-width="0.6" />
<line x1="422.43" y1="150.00" x2="422.43" y2="151.10" stroke="#333" stroke-width="0.6" />
<line x1="422.43" y1="268.10" x2="422.43" y2="267.00" stroke="#333" stroke-width="0.6" />
<line x1="427.18" y1="150.00" x2="427.18" y2="151.10" stroke="#333" stroke-width="0.6" />
<line x1="427.18" y1="268.10" x2="427.18" y2="267.00" stroke="#333" stroke-width="0.6" />
<line x1="430.86" y1="150.00" x2="430.86" y2="151.10" stroke="#333" stroke-width="0.6" />
<line x1="430.86" y1="268.10" x2="430.86" y2="267.00" stroke="#333" stroke-width="0.6" />
<line x1="433.87" y1="150.00" x2="433.87" y2="151.10" stroke="#333" stroke-width="0.6" />
<line x1="433.87" y1="268.10" x2="433.87" y2="267.00" stroke="#333" stroke-width="0.6" />
<line x1="436.41" y1="150.00" x2="436.41" y2="151.10" stroke="#333" stroke-width="0.6" />
<line x1="436.41" y1="268.10" x2="436.41" y2="267.00" stroke="#333" stroke-width="0.6" />
<line x1="438.62" y1="150.00" x2="438.62" y2="151.10" stroke="#333" stroke-width="0.6" />
<line x1="438.62" y1="268.10" x2="438.62" y2="267.00" stroke="#333" stroke-width="0.6" />
<line x1="440.56" y1="150.00" x2="440.56" y2="151.10" stroke="#333" stroke-width="0.6" />
<line x1="440.56" y1="268.10" x2="440.56" y2="267.00" stroke="#333" stroke-width="0.6" />
<line x1="442.30" y1="150.00" x2="442.30" y2="152.00" stroke="#333" stroke-width="0.6" />
<line x1="442.30" y1="268.10" x2="442.30" y2="266.10" stroke="#333" stroke-width="0.6" />
<line x1="453.74" y1="150.00" x2="453.74" y2="151.10" stroke="#333" stroke-width="0.6" />
<line x1="453.74" y1="268.10" x2="453.74" y2="267.00" stroke="#333" stroke-width="0.6" />
<line x1="460.43" y1="150.00" x2="460.43" y2="151.10" stroke="#333" stroke-width="0.6" />
<line x1="460.43" y1="268.10" x2="460.43" y2="267.00" stroke="#333" stroke-width="0.6" />
<line x1="465.18" y1="150.00" x2="465.18" y2="151.10" stroke="#333" stroke-width="0.6" />
<line x1="465.18" y1="268.10" x2="465.18" y2="267.00" stroke="#333" stroke-width="0.6" />
<line x1="468.86" y1="150.00" x2="468.86" y2="151.10" stroke="#333" stroke-width="0.6" />
<line x1="468.86" y1="268.10" x2="468.86" y2="267.00" stroke="#333" stroke-width="0.6" />
<line x1="471.87" y1="150.00" x2="471.87" y2="151.10" stroke="#333" stroke-width="0.6" />
<line x1="471.87" y1="268.10" x2="471.87" y2="267.00" stroke="#333" stroke-width="0.6" />
<line x1="474.41" y1="150.00" x2="474.41" y2="151.10" stroke="#333" stroke-width="0.6" />
<line x1="474.41" y1="268.10" x2="474.41" y2="267.00" stroke="#333" stroke-width="0.6" />
<line x1="476.62" y1="150.00" x2="476.62" y2="151.10" stroke="#333" stroke-width="0.6" />
<line x1="476.62" y1="268.10" x2="476.62" y2="267.00" stroke="#333" stroke-width="0.6" />
<line x1="478.56" y1="150.00" x2="478.56" y2="151.10" stroke="#333" stroke-width="0.6" />
<line x1="478.56" y1="268.10" x2="478.56" y2="267.00" stroke="#333" stroke-width="0.6" />
<line x1="480.30" y1="150.00" x2="480.30" y2="152.00" stroke="#333" stroke-width="0.6" />
<line x1="480.30" y1="268.10" x2="480.30" y2="266.10" stroke="#333" stroke-width="0.6" />
<line x1="491.74" y1="150.00" x2="491.74" y2="151.10" stroke="#333" stroke-width="0.6" />
<line x1="491.74" y1="268.10" x2="491.74" y2="267.00" stroke="#333" stroke-width="0.6" />
<line x1="498.43" y1="150.00" x2="498.43" y2="151.10" stroke="#333" stroke-width="0.6" />
<line x1="498.43" y1="268.10" x2="498.43" y2="267.00" stroke="#333" stroke-width="0.6" />
<line x1="503.18" y1="150.00" x2="503.18" y2="151.10" stroke="#333" stroke-width="0.6" />
<line x1="503.18" y1="268.10" x2="503.18" y2="267.00" stroke="#333" stroke-width="0.6" />
<line x1="506.86" y1="150.00" x2="506.86" y2="151.10" stroke="#333" stroke-width="0.6" />
<line x1="506.86" y1="268.10" x2="506.86" y2="267.00" stroke="#333" stroke-width="0.6" />
<line x1="509.87" y1="150.00" x2="509.87" y2="151.10" stroke="#333" stroke-width="0.6" />
<line x1="509.87" y1="268.10" x2="509.87" y2="267.00" stroke="#333" stroke-width="0.6" />
<line x1="512.41" y1="150.00" x2="512.41" y2="151.10" stroke="#333" stroke-width="0.6" />
<line x1="512.41" y1="268.10" x2="512.41" y2="267.00" stroke="#333" stroke-width="0.6" />
<line x1="514.62" y1="150.00" x2="514.62" y2="151.10" stroke="#333" stroke-width="0.6" />
<line x1="514.62" y1="268.10" x2="514.62" y2="267.00" stroke="#333" stroke-width="0.6" />
<line x1="516.56" y1="150.00" x2="516.56" y2="151.10" stroke="#333" stroke-width="0.6" />
<line x1="516.56" y1="268.10" x2="516.56" y2="267.00" stroke="#333" stroke-width="0.6" />
<line x1="518.30" y1="268.10" x2="518.30" y2="266.10" stroke="#333" stroke-width="0.6" />
<line x1="394.80" y1="268.10" x2="396.80" y2="268.10" stroke="#ff5050" stroke-width="0.7" />
<line x1="394.80" y1="258.23" x2="396.00" y2="258.23" stroke="#ff5050" stroke-width="0.6" />
<text x="391.80" y="270.60" font-size="7" fill="#ff2a2a" stroke="#ff2a2a" stroke-width="0.3" text-anchor="end">0.2</text>
<line x1="394.80" y1="248.35" x2="396.80" y2="248.35" stroke="#ff5050" stroke-width="0.7" />
<line x1="394.80" y1="238.48" x2="396.00" y2="238.48" stroke="#ff5050" stroke-width="0.6" />
<text x="391.80" y="250.85" font-size="7" fill="#ff2a2a" stroke="#ff2a2a" stroke-width="0.3" text-anchor="end">0.4</text>
<line x1="394.80" y1="228.60" x2="396.80" y2="228.60" stroke="#ff5050" stroke-width="0.7" />
<line x1="394.80" y1="218.73" x2="396.00" y2="218.73" stroke="#ff5050" stroke-width="0.6" />
<text x="391.80" y="231.10" font-size="7" fill="#ff2a2a" stroke="#ff2a2a" stroke-width="0.3" text-anchor="end">0.6</text>
<line x1="394.80" y1="208.85" x2="396.80" y2="208.85" stroke="#ff5050" stroke-width="0.7" />
<line x1="394.80" y1="198.98" x2="396.00" y2="198.98" stroke="#ff5050" stroke-width="0.6" />
<text x="391.80" y="211.35" font-size="7" fill="#ff2a2a" stroke="#ff2a2a" stroke-width="0.3" text-anchor="end">0.8</text>
<line x1="394.80" y1="189.10" x2="396.80" y2="189.10" stroke="#ff5050" stroke-width="0.7" />
<line x1="394.80" y1="179.23" x2="396.00" y2="179.23" stroke="#ff5050" stroke-width="0.6" />
<text x="391.80" y="191.60" font-size="7" fill="#ff2a2a" stroke="#ff2a2a" stroke-width="0.3" text-anchor="end">1.0</text>
<line x1="394.80" y1="169.35" x2="396.80" y2="169.35" stroke="#ff5050" stroke-width="0.7" />
<line x1="394.80" y1="159.48" x2="396.00" y2="159.48" stroke="#ff5050" stroke-width="0.6" />
<text x="391.80" y="171.85" font-size="7" fill="#ff2a2a" stroke="#ff2a2a" stroke-width="0.3" text-anchor="end">1.2</text>
<line x1="394.80" y1="149.60" x2="396.80" y2="149.60" stroke="#ff5050" stroke-width="0.7" />
<text x="391.80" y="152.10" font-size="7" fill="#ff2a2a" stroke="#ff2a2a" stroke-width="0.3" text-anchor="end">1.4</text>
<line x1="518.20" y1="268.00" x2="516.20" y2="268.00" stroke="#5050ff" stroke-width="0.7" />
<text x="520.30" y="270.50" font-size="7" fill="#2a2aff" stroke="#2a2aff" stroke-width="0.3">4.0</text>
<line x1="518.20" y1="255.55" x2="516.20" y2="255.55" stroke="#5050ff" stroke-width="0.7" />
<text x="520.30" y="258.05" font-size="7" fill="#2a2aff" stroke="#2a2aff" stroke-width="0.3">4.5</text>
<line x1="518.20" y1="243.10" x2="516.20" y2="243.10" stroke="#5050ff" stroke-width="0.7" />
<text x="520.30" y="245.60" font-size="7" fill="#2a2aff" stroke="#2a2aff" stroke-width="0.3">5.0</text>
<line x1="518.20" y1="230.65" x2="516.20" y2="230.65" stroke="#5050ff" stroke-width="0.7" />
<text x="520.30" y="233.15" font-size="7" fill="#2a2aff" stroke="#2a2aff" stroke-width="0.3">5.5</text>
<line x1="518.20" y1="218.20" x2="516.20" y2="218.20" stroke="#5050ff" stroke-width="0.7" />
<text x="520.30" y="220.70" font-size="7" fill="#2a2aff" stroke="#2a2aff" stroke-width="0.3">6.0</text>
<line x1="518.20" y1="205.75" x2="516.20" y2="205.75" stroke="#5050ff" stroke-width="0.7" />
<text x="520.30" y="208.25" font-size="7" fill="#2a2aff" stroke="#2a2aff" stroke-width="0.3">6.5</text>
<line x1="518.20" y1="193.30" x2="516.20" y2="193.30" stroke="#5050ff" stroke-width="0.7" />
<text x="520.30" y="195.80" font-size="7" fill="#2a2aff" stroke="#2a2aff" stroke-width="0.3">7.0</text>
<line x1="518.20" y1="180.85" x2="516.20" y2="180.85" stroke="#5050ff" stroke-width="0.7" />
<text x="520.30" y="183.35" font-size="7" fill="#2a2aff" stroke="#2a2aff" stroke-width="0.3">7.5</text>
<line x1="518.20" y1="168.40" x2="516.20" y2="168.40" stroke="#5050ff" stroke-width="0.7" />
<text x="520.30" y="170.90" font-size="7" fill="#2a2aff" stroke="#2a2aff" stroke-width="0.3">8.0</text>
<line x1="518.20" y1="155.95" x2="516.20" y2="155.95" stroke="#5050ff" stroke-width="0.7" />
<text x="520.30" y="158.45" font-size="7" fill="#2a2aff" stroke="#2a2aff" stroke-width="0.3">8.5</text>
<text x="403.80" y="277.00" font-size="6" fill="#222" stroke="#222" stroke-width="0.3" text-anchor="middle">10<tspan font-size="3.8" dy="-2.3">16</tspan></text>
<text x="441.80" y="277.00" font-size="6" fill="#222" stroke="#222" stroke-width="0.3" text-anchor="middle">10<tspan font-size="3.8" dy="-2.3">17</tspan></text>
<text x="479.80" y="277.00" font-size="6" fill="#222" stroke="#222" stroke-width="0.3" text-anchor="middle">10<tspan font-size="3.8" dy="-2.3">18</tspan></text>
<text x="517.80" y="277.00" font-size="6" fill="#222" stroke="#222" stroke-width="0.3" text-anchor="middle">10<tspan font-size="3.8" dy="-2.3">19</tspan></text>
<text x="375.6" y="210" font-size="8.3" fill="#ff2a2a" text-anchor="middle" transform="rotate(-90 375.6 210)" textLength="125" lengthAdjust="spacingAndGlyphs" stroke="#ff2a2a" stroke-width="0.3">Carrier concentration (x10<tspan font-size="5.5" dy="-3">12</tspan><tspan dy="3"> cm</tspan><tspan font-size="5.5" dy="-3">-3</tspan><tspan dy="3">)</tspan></text>
<text x="542.6" y="211.5" font-size="8.3" fill="#2a2aff" text-anchor="middle" transform="rotate(-90 542.6 211.5)" textLength="114" lengthAdjust="spacingAndGlyphs" stroke="#2a2aff" stroke-width="0.3">Carrier mobility (x10<tspan font-size="5.5" dy="-3">3</tspan><tspan dy="3"> cm</tspan><tspan font-size="5.5" dy="-3">2</tspan><tspan dy="3">V</tspan><tspan font-size="5.5" dy="-3">-1</tspan><tspan dy="3">s</tspan><tspan font-size="5.5" dy="-3">-1</tspan><tspan dy="3">)</tspan></text>
<text x="414.7" y="288.9" font-size="8.3" fill="#222" textLength="83.3" lengthAdjust="spacingAndGlyphs" stroke="#222" stroke-width="0.3">Implantation dose (cm<tspan font-size="5.5" dy="-3.8">-2</tspan><tspan dy="3.8">)</tspan></text>
<polyline points="404.30,173.00 442.40,221.80 480.40,259.60 507.00,249.60" fill="none" stroke="#ff4040" stroke-width="0.8" stroke-linejoin="round" />
<polyline points="404.50,256.20 442.50,160.50 480.40,185.00 507.00,210.00" fill="none" stroke="#4040ff" stroke-width="0.8" stroke-linejoin="round" />
<rect x="402.40" y="171.10" width="3.8" height="3.8" fill="#ff2a2a"/>
<rect x="440.50" y="219.90" width="3.8" height="3.8" fill="#ff2a2a"/>
<rect x="478.50" y="257.70" width="3.8" height="3.8" fill="#ff2a2a"/>
<rect x="505.10" y="247.70" width="3.8" height="3.8" fill="#ff2a2a"/>
<rect x="402.60" y="254.30" width="3.8" height="3.8" fill="#2a2aff"/>
<rect x="440.60" y="158.60" width="3.8" height="3.8" fill="#2a2aff"/>
<rect x="478.50" y="183.10" width="3.8" height="3.8" fill="#2a2aff"/>
<rect x="505.10" y="208.10" width="3.8" height="3.8" fill="#2a2aff"/>
<text x="465.00" y="222.40" font-size="6.6" fill="#333" stroke="#333" stroke-width="0.3" textLength="31" lengthAdjust="spacingAndGlyphs">low defect</text>
<text x="470.00" y="232.00" font-size="6.6" fill="#333" stroke="#333" stroke-width="0.3" textLength="21" lengthAdjust="spacingAndGlyphs">density</text>
<line x1="480.60" y1="237.00" x2="480.60" y2="254.00" stroke="#3a8ee0" stroke-width="0.9" />
<polyline points="478.40,251.50 480.60,256.00 482.80,251.50" fill="none" stroke="#3a8ee0" stroke-width="0.9" stroke-linejoin="round" />
<ellipse cx="461" cy="242" rx="2.9" ry="6" fill="none" stroke="#ff2a2a" stroke-width="0.9"/>
<polyline points="461.00,248.60 451.00,248.60" fill="none" stroke="#ff2a2a" stroke-width="0.9" stroke-linejoin="round" />
<polyline points="453.20,246.60 450.60,248.60 453.20,250.60" fill="none" stroke="#ff2a2a" stroke-width="0.9" stroke-linejoin="round" />
<ellipse cx="461" cy="173.4" rx="2.9" ry="6" fill="none" stroke="#2a2aff" stroke-width="0.9"/>
<polyline points="461.00,167.60 471.60,166.80" fill="none" stroke="#2a2aff" stroke-width="0.9" stroke-linejoin="round" />
<polyline points="469.20,164.80 472.00,166.80 469.40,168.80" fill="none" stroke="#2a2aff" stroke-width="0.9" stroke-linejoin="round" />
<text x="12.80" y="301.45" font-size="10.6" fill="#25324a" stroke="#25324a" stroke-width="0.2" font-family="Liberation Serif, serif">(g)</text>
<line x1="35.30" y1="316.00" x2="164.80" y2="316.00" stroke="#444" stroke-width="1.1" />
<line x1="35.30" y1="439.20" x2="164.80" y2="439.20" stroke="#444" stroke-width="1.1" />
<line x1="35.30" y1="316.00" x2="35.30" y2="439.20" stroke="#444" stroke-width="1.1" />
<line x1="164.80" y1="316.00" x2="164.80" y2="439.20" stroke="#444" stroke-width="1.1" />
<line x1="35.30" y1="440.00" x2="37.50" y2="440.00" stroke="#444" stroke-width="0.7" />
<line x1="164.80" y1="440.00" x2="162.60" y2="440.00" stroke="#444" stroke-width="0.7" />
<text x="33.20" y="442.89" font-size="8.2" fill="#222" stroke="#222" stroke-width="0.3" text-anchor="end">-150</text>
<line x1="35.30" y1="419.33" x2="37.50" y2="419.33" stroke="#444" stroke-width="0.7" />
<line x1="164.80" y1="419.33" x2="162.60" y2="419.33" stroke="#444" stroke-width="0.7" />
<text x="33.20" y="422.23" font-size="8.2" fill="#222" stroke="#222" stroke-width="0.3" text-anchor="end">-100</text>
<line x1="35.30" y1="398.67" x2="37.50" y2="398.67" stroke="#444" stroke-width="0.7" />
<line x1="164.80" y1="398.67" x2="162.60" y2="398.67" stroke="#444" stroke-width="0.7" />
<text x="33.20" y="401.56" font-size="8.2" fill="#222" stroke="#222" stroke-width="0.3" text-anchor="end">-50</text>
<line x1="35.30" y1="378.00" x2="37.50" y2="378.00" stroke="#444" stroke-width="0.7" />
<line x1="164.80" y1="378.00" x2="162.60" y2="378.00" stroke="#444" stroke-width="0.7" />
<text x="33.20" y="380.90" font-size="8.2" fill="#222" stroke="#222" stroke-width="0.3" text-anchor="end">0</text>
<line x1="35.30" y1="357.33" x2="37.50" y2="357.33" stroke="#444" stroke-width="0.7" />
<line x1="164.80" y1="357.33" x2="162.60" y2="357.33" stroke="#444" stroke-width="0.7" />
<text x="33.20" y="360.23" font-size="8.2" fill="#222" stroke="#222" stroke-width="0.3" text-anchor="end">50</text>
<line x1="35.30" y1="336.67" x2="37.50" y2="336.67" stroke="#444" stroke-width="0.7" />
<line x1="164.80" y1="336.67" x2="162.60" y2="336.67" stroke="#444" stroke-width="0.7" />
<text x="33.20" y="339.57" font-size="8.2" fill="#222" stroke="#222" stroke-width="0.3" text-anchor="end">100</text>
<line x1="35.30" y1="316.00" x2="37.50" y2="316.00" stroke="#444" stroke-width="0.7" />
<line x1="164.80" y1="316.00" x2="162.60" y2="316.00" stroke="#444" stroke-width="0.7" />
<text x="33.20" y="318.90" font-size="8.2" fill="#222" stroke="#222" stroke-width="0.3" text-anchor="end">150</text>
<line x1="35.30" y1="429.66" x2="36.50" y2="429.66" stroke="#444" stroke-width="0.6" />
<line x1="35.30" y1="409.00" x2="36.50" y2="409.00" stroke="#444" stroke-width="0.6" />
<line x1="35.30" y1="388.33" x2="36.50" y2="388.33" stroke="#444" stroke-width="0.6" />
<line x1="35.30" y1="367.67" x2="36.50" y2="367.67" stroke="#444" stroke-width="0.6" />
<line x1="35.30" y1="347.00" x2="36.50" y2="347.00" stroke="#444" stroke-width="0.6" />
<line x1="35.30" y1="326.34" x2="36.50" y2="326.34" stroke="#444" stroke-width="0.6" />
<line x1="54.51" y1="439.20" x2="54.51" y2="437.00" stroke="#444" stroke-width="0.7" />
<line x1="54.51" y1="316.00" x2="54.51" y2="318.20" stroke="#444" stroke-width="0.7" />
<text x="55.41" y="448.60" font-size="8.2" fill="#222" stroke="#222" stroke-width="0.3" text-anchor="middle">-12</text>
<line x1="77.33" y1="439.20" x2="77.33" y2="437.00" stroke="#444" stroke-width="0.7" />
<line x1="77.33" y1="316.00" x2="77.33" y2="318.20" stroke="#444" stroke-width="0.7" />
<text x="78.23" y="448.60" font-size="8.2" fill="#222" stroke="#222" stroke-width="0.3" text-anchor="middle">-6</text>
<line x1="100.15" y1="439.20" x2="100.15" y2="437.00" stroke="#444" stroke-width="0.7" />
<line x1="100.15" y1="316.00" x2="100.15" y2="318.20" stroke="#444" stroke-width="0.7" />
<text x="100.15" y="448.60" font-size="8.2" fill="#222" stroke="#222" stroke-width="0.3" text-anchor="middle">0</text>
<line x1="122.97" y1="439.20" x2="122.97" y2="437.00" stroke="#444" stroke-width="0.7" />
<line x1="122.97" y1="316.00" x2="122.97" y2="318.20" stroke="#444" stroke-width="0.7" />
<text x="122.97" y="448.60" font-size="8.2" fill="#222" stroke="#222" stroke-width="0.3" text-anchor="middle">6</text>
<line x1="145.79" y1="439.20" x2="145.79" y2="437.00" stroke="#444" stroke-width="0.7" />
<line x1="145.79" y1="316.00" x2="145.79" y2="318.20" stroke="#444" stroke-width="0.7" />
<text x="145.79" y="448.60" font-size="8.2" fill="#222" stroke="#222" stroke-width="0.3" text-anchor="middle">12</text>
<line x1="43.11" y1="439.20" x2="43.11" y2="438.00" stroke="#444" stroke-width="0.6" />
<line x1="65.92" y1="439.20" x2="65.92" y2="438.00" stroke="#444" stroke-width="0.6" />
<line x1="88.74" y1="439.20" x2="88.74" y2="438.00" stroke="#444" stroke-width="0.6" />
<line x1="111.56" y1="439.20" x2="111.56" y2="438.00" stroke="#444" stroke-width="0.6" />
<line x1="134.38" y1="439.20" x2="134.38" y2="438.00" stroke="#444" stroke-width="0.6" />
<line x1="157.19" y1="439.20" x2="157.19" y2="438.00" stroke="#444" stroke-width="0.6" />
<text x="11.40" y="382.30" font-size="9.2" fill="#222" stroke="#222" stroke-width="0.3" text-anchor="middle" textLength="51" lengthAdjust="spacingAndGlyphs" transform="rotate(-90 11.40 382.30)">Current (mA)</text>
<text x="66.70" y="461.50" font-size="9.2" fill="#222" stroke="#222" stroke-width="0.3" textLength="67.3" lengthAdjust="spacingAndGlyphs">Bias voltage (V)</text>
<polyline points="43.20,400.00 49.23,397.10 55.26,394.60 61.29,391.90 67.32,389.00 73.35,386.90 79.38,384.60 85.41,382.50 91.44,380.70 97.47,379.20 103.50,376.90 109.53,375.90 115.56,373.80 121.59,372.30 127.62,370.80 133.65,368.80 139.68,366.90 145.71,365.20 151.74,363.40 157.77,361.50" fill="none" stroke="#2020ff" stroke-width="0.9" stroke-linejoin="round" />
<polyline points="43.20,423.00 49.23,416.80 55.26,411.50 61.29,405.70 67.32,400.30 73.35,395.10 79.38,390.70 85.41,386.10 91.44,382.20 97.47,379.00 103.50,377.00 109.53,373.30 115.56,368.60 121.59,363.40 127.62,358.50 133.65,353.30 139.68,348.40 145.71,342.60 151.74,337.40" fill="none" stroke="#ff2020" stroke-width="0.9" stroke-linejoin="round" />
<rect x="41.00" y="397.80" width="4.4" height="4.4" fill="#1010ff"/>
<rect x="47.03" y="394.90" width="4.4" height="4.4" fill="#1010ff"/>
<rect x="53.06" y="392.40" width="4.4" height="4.4" fill="#1010ff"/>
<rect x="59.09" y="389.70" width="4.4" height="4.4" fill="#1010ff"/>
<rect x="65.12" y="386.80" width="4.4" height="4.4" fill="#1010ff"/>
<rect x="71.15" y="384.70" width="4.4" height="4.4" fill="#1010ff"/>
<rect x="77.18" y="382.40" width="4.4" height="4.4" fill="#1010ff"/>
<rect x="83.21" y="380.30" width="4.4" height="4.4" fill="#1010ff"/>
<rect x="89.24" y="378.50" width="4.4" height="4.4" fill="#1010ff"/>
<rect x="95.27" y="377.00" width="4.4" height="4.4" fill="#1010ff"/>
<rect x="101.30" y="374.70" width="4.4" height="4.4" fill="#1010ff"/>
<rect x="107.33" y="373.70" width="4.4" height="4.4" fill="#1010ff"/>
<rect x="113.36" y="371.60" width="4.4" height="4.4" fill="#1010ff"/>
<rect x="119.39" y="370.10" width="4.4" height="4.4" fill="#1010ff"/>
<rect x="125.42" y="368.60" width="4.4" height="4.4" fill="#1010ff"/>
<rect x="131.45" y="366.60" width="4.4" height="4.4" fill="#1010ff"/>
<rect x="137.48" y="364.70" width="4.4" height="4.4" fill="#1010ff"/>
<rect x="143.51" y="363.00" width="4.4" height="4.4" fill="#1010ff"/>
<rect x="149.54" y="361.20" width="4.4" height="4.4" fill="#1010ff"/>
<rect x="155.57" y="359.30" width="4.4" height="4.4" fill="#1010ff"/>
<circle cx="43.20" cy="423.00" r="2.55" fill="#ff1010" />
<circle cx="49.23" cy="416.80" r="2.55" fill="#ff1010" />
<circle cx="55.26" cy="411.50" r="2.55" fill="#ff1010" />
<circle cx="61.29" cy="405.70" r="2.55" fill="#ff1010" />
<circle cx="67.32" cy="400.30" r="2.55" fill="#ff1010" />
<circle cx="73.35" cy="395.10" r="2.55" fill="#ff1010" />
<circle cx="79.38" cy="390.70" r="2.55" fill="#ff1010" />
<circle cx="85.41" cy="386.10" r="2.55" fill="#ff1010" />
<circle cx="91.44" cy="382.20" r="2.55" fill="#ff1010" />
<circle cx="97.47" cy="379.00" r="2.55" fill="#ff1010" />
<circle cx="103.50" cy="377.00" r="2.55" fill="#ff1010" />
<circle cx="109.53" cy="373.30" r="2.55" fill="#ff1010" />
<circle cx="115.56" cy="368.60" r="2.55" fill="#ff1010" />
<circle cx="121.59" cy="363.40" r="2.55" fill="#ff1010" />
<circle cx="127.62" cy="358.50" r="2.55" fill="#ff1010" />
<circle cx="133.65" cy="353.30" r="2.55" fill="#ff1010" />
<circle cx="139.68" cy="348.40" r="2.55" fill="#ff1010" />
<circle cx="145.71" cy="342.60" r="2.55" fill="#ff1010" />
<circle cx="151.74" cy="337.40" r="2.55" fill="#ff1010" />
<rect x="98.6" y="316.3" width="66.2" height="20.2" fill="#fff" stroke="#888" stroke-width="0.7"/>
<line x1="100.60" y1="322.00" x2="115.90" y2="322.00" stroke="#2020ff" stroke-width="0.9" />
<rect x="106.20" y="320.00" width="4.0" height="4.0" fill="#1010ff"/>
<line x1="100.60" y1="331.10" x2="115.90" y2="331.10" stroke="#ff2020" stroke-width="0.9" />
<circle cx="108.20" cy="331.10" r="2.4" fill="#ff1010" />
<text x="119.40" y="325.00" font-size="8.8" fill="#222" stroke="#222" stroke-width="0.15" textLength="44.6" lengthAdjust="spacingAndGlyphs">Dark current</text>
<text x="119.40" y="334.10" font-size="8.8" fill="#222" stroke="#222" stroke-width="0.15" textLength="34.2" lengthAdjust="spacingAndGlyphs">84.20mW</text>
<text x="97.30" y="410.30" font-size="9.6" fill="#222" stroke="#222" stroke-width="0.3" textLength="34.5" lengthAdjust="spacingAndGlyphs">T=300 K</text>
<text x="97.30" y="421.20" font-size="9.6" fill="#222" stroke="#222" stroke-width="0.3" textLength="58.5" lengthAdjust="spacingAndGlyphs">d=1x10<tspan font-size="6" dy="-3.5">18</tspan><tspan dy="3.5"> cm</tspan><tspan font-size="6" dy="-3.5">-2</tspan></text>
<rect x="39.5" y="318.5" width="58.5" height="57" fill="#fff"/>
<polyline points="55.90,336.00 47.70,320.70 41.70,320.70 41.70,372.90 79.80,372.90 79.80,367.00" fill="none" stroke="#222" stroke-width="0.8" stroke-linejoin="round" />
<polyline points="78.30,336.90 87.20,321.20 94.70,321.20 94.70,372.90 80.80,372.90 80.80,367.00" fill="none" stroke="#ff3030" stroke-width="0.8" stroke-linejoin="round" />
<line x1="50.20" y1="326.00" x2="56.60" y2="335.80" stroke="#111" stroke-width="1.5" />
<line x1="83.40" y1="327.00" x2="77.70" y2="337.00" stroke="#e81818" stroke-width="1.5" />
<rect x="63.2" y="320.2" width="8.4" height="15.5" rx="2" fill="#ffa8a8" opacity="0.85" filter="url(#b12)"/>
<polygon points="52.30,341.40 81.80,339.60 81.80,341.40 77.00,344.20 52.30,343.20" fill="#303036" stroke="none" stroke-width="0" />
<polygon points="52.30,341.30 57.20,335.00 77.60,335.20 81.80,339.50 76.80,342.60" fill="#d6ce22" stroke="none" stroke-width="0" />
<polygon points="59.80,341.90 62.20,335.10 74.20,335.20 75.60,342.50" fill="#e8862e" stroke="none" stroke-width="0" />
<polygon points="62.80,339.80 64.60,335.20 71.60,335.30 72.60,340.20" fill="#b04490" stroke="none" stroke-width="0" />
<polygon points="56.80,340.20 72.50,341.00 72.50,342.60 56.80,341.80" fill="#2a6ed0" stroke="none" stroke-width="0" />
<text x="51.70" y="350.70" font-size="5.2" fill="#222" stroke="#222" stroke-width="0.3" textLength="30.3" lengthAdjust="spacingAndGlyphs" font-family="Liberation Serif, serif" font-weight="bold">Agilent 2912A</text>
<rect x="49.9" y="353.3" width="33.6" height="15.7" rx="1.5" fill="#d0d0d4" stroke="#777" stroke-width="0.6"/>
<rect x="51" y="354.3" width="31.4" height="13.5" fill="#c4c4c8"/>
<rect x="55.9" y="355.5" width="11.2" height="8.2" fill="#40484a"/>
<rect x="57" y="356.4" width="9" height="6.4" fill="#6a7a70"/>
<rect x="73.8" y="360.7" width="7.5" height="8.3" fill="#e8e8e8" stroke="#666" stroke-width="0.4"/>
<circle cx="75.60" cy="362.60" r="1.1" fill="#e02020" />
<circle cx="78.60" cy="362.60" r="1.1" fill="#e02020" />
<circle cx="75.60" cy="366.20" r="1.1" fill="#111" />
<circle cx="78.60" cy="366.20" r="1.1" fill="#111" />
<line x1="49.90" y1="369.00" x2="83.50" y2="369.00" stroke="#666" stroke-width="0.8" />
<text x="184.10" y="301.45" font-size="10.3" fill="#25324a" stroke="#25324a" stroke-width="0.2">(h)</text>
<line x1="215.10" y1="316.90" x2="345.40" y2="316.90" stroke="#444" stroke-width="1.1" />
<line x1="215.10" y1="438.70" x2="345.40" y2="438.70" stroke="#444" stroke-width="1.1" />
<line x1="215.10" y1="316.90" x2="215.10" y2="438.70" stroke="#444" stroke-width="1.1" />
<line x1="345.40" y1="316.90" x2="345.40" y2="438.70" stroke="#444" stroke-width="1.1" />
<line x1="229.60" y1="438.70" x2="229.60" y2="436.50" stroke="#444" stroke-width="0.7" />
<line x1="229.60" y1="316.90" x2="229.60" y2="319.10" stroke="#444" stroke-width="0.7" />
<line x1="258.80" y1="438.70" x2="258.80" y2="436.50" stroke="#444" stroke-width="0.7" />
<line x1="258.80" y1="316.90" x2="258.80" y2="319.10" stroke="#444" stroke-width="0.7" />
<line x1="288.20" y1="438.70" x2="288.20" y2="436.50" stroke="#444" stroke-width="0.7" />
<line x1="288.20" y1="316.90" x2="288.20" y2="319.10" stroke="#444" stroke-width="0.7" />
<line x1="317.20" y1="438.70" x2="317.20" y2="436.50" stroke="#444" stroke-width="0.7" />
<line x1="317.20" y1="316.90" x2="317.20" y2="319.10" stroke="#444" stroke-width="0.7" />
<line x1="244.30" y1="438.70" x2="244.30" y2="437.50" stroke="#444" stroke-width="0.6" />
<line x1="244.30" y1="316.90" x2="244.30" y2="318.10" stroke="#444" stroke-width="0.6" />
<line x1="273.50" y1="438.70" x2="273.50" y2="437.50" stroke="#444" stroke-width="0.6" />
<line x1="273.50" y1="316.90" x2="273.50" y2="318.10" stroke="#444" stroke-width="0.6" />
<line x1="302.70" y1="438.70" x2="302.70" y2="437.50" stroke="#444" stroke-width="0.6" />
<line x1="302.70" y1="316.90" x2="302.70" y2="318.10" stroke="#444" stroke-width="0.6" />
<line x1="332.00" y1="438.70" x2="332.00" y2="437.50" stroke="#444" stroke-width="0.6" />
<line x1="332.00" y1="316.90" x2="332.00" y2="318.10" stroke="#444" stroke-width="0.6" />
<text x="230.00" y="448.60" font-size="8.2" fill="#222" stroke="#222" stroke-width="0.3" text-anchor="middle">2000</text>
<text x="259.20" y="448.60" font-size="8.2" fill="#222" stroke="#222" stroke-width="0.3" text-anchor="middle">3000</text>
<text x="288.60" y="448.60" font-size="8.2" fill="#222" stroke="#222" stroke-width="0.3" text-anchor="middle">4000</text>
<text x="317.60" y="448.60" font-size="8.2" fill="#222" stroke="#222" stroke-width="0.3" text-anchor="middle">5000</text>
<text x="345.80" y="448.60" font-size="8.2" fill="#222" stroke="#222" stroke-width="0.3" text-anchor="middle">6000</text>
<line x1="215.10" y1="418.50" x2="217.30" y2="418.50" stroke="#444" stroke-width="0.7" />
<line x1="345.40" y1="418.50" x2="343.20" y2="418.50" stroke="#444" stroke-width="0.7" />
<text x="212.80" y="421.40" font-size="8.2" fill="#222" stroke="#222" stroke-width="0.3" text-anchor="end">0.5</text>
<line x1="215.10" y1="393.10" x2="217.30" y2="393.10" stroke="#444" stroke-width="0.7" />
<line x1="345.40" y1="393.10" x2="343.20" y2="393.10" stroke="#444" stroke-width="0.7" />
<text x="212.80" y="396.00" font-size="8.2" fill="#222" stroke="#222" stroke-width="0.3" text-anchor="end">1.0</text>
<line x1="215.10" y1="367.70" x2="217.30" y2="367.70" stroke="#444" stroke-width="0.7" />
<line x1="345.40" y1="367.70" x2="343.20" y2="367.70" stroke="#444" stroke-width="0.7" />
<text x="212.80" y="370.60" font-size="8.2" fill="#222" stroke="#222" stroke-width="0.3" text-anchor="end">1.5</text>
<line x1="215.10" y1="342.30" x2="217.30" y2="342.30" stroke="#444" stroke-width="0.7" />
<line x1="345.40" y1="342.30" x2="343.20" y2="342.30" stroke="#444" stroke-width="0.7" />
<text x="212.80" y="345.20" font-size="8.2" fill="#222" stroke="#222" stroke-width="0.3" text-anchor="end">2.0</text>
<line x1="215.10" y1="316.90" x2="217.30" y2="316.90" stroke="#444" stroke-width="0.7" />
<line x1="345.40" y1="316.90" x2="343.20" y2="316.90" stroke="#444" stroke-width="0.7" />
<text x="212.80" y="319.80" font-size="8.2" fill="#222" stroke="#222" stroke-width="0.3" text-anchor="end">2.5</text>
<line x1="215.10" y1="431.20" x2="216.30" y2="431.20" stroke="#444" stroke-width="0.6" />
<line x1="345.40" y1="431.20" x2="344.20" y2="431.20" stroke="#444" stroke-width="0.6" />
<line x1="215.10" y1="405.80" x2="216.30" y2="405.80" stroke="#444" stroke-width="0.6" />
<line x1="345.40" y1="405.80" x2="344.20" y2="405.80" stroke="#444" stroke-width="0.6" />
<line x1="215.10" y1="380.40" x2="216.30" y2="380.40" stroke="#444" stroke-width="0.6" />
<line x1="345.40" y1="380.40" x2="344.20" y2="380.40" stroke="#444" stroke-width="0.6" />
<line x1="215.10" y1="355.00" x2="216.30" y2="355.00" stroke="#444" stroke-width="0.6" />
<line x1="345.40" y1="355.00" x2="344.20" y2="355.00" stroke="#444" stroke-width="0.6" />
<line x1="215.10" y1="329.60" x2="216.30" y2="329.60" stroke="#444" stroke-width="0.6" />
<line x1="345.40" y1="329.60" x2="344.20" y2="329.60" stroke="#444" stroke-width="0.6" />
<text x="195.40" y="380.00" font-size="9.6" fill="#222" stroke="#222" stroke-width="0.3" text-anchor="middle" textLength="87.5" lengthAdjust="spacingAndGlyphs" transform="rotate(-90 195.40 380.00)">Responsivity (A/W)</text>
<text x="244.50" y="462.70" font-size="9.2" fill="#222" stroke="#222" stroke-width="0.3" textLength="72.8" lengthAdjust="spacingAndGlyphs">Wavelength (nm)</text>
<text x="229.00" y="337.80" font-size="8.9" fill="#222" stroke="#222" stroke-width="0.3" textLength="36.5" lengthAdjust="spacingAndGlyphs">V<tspan font-size="5.2" dy="2.6">bias</tspan><tspan dy="-2.6">=15 V</tspan></text>
<polyline points="229.60,434.30 244.30,431.00 258.80,429.90 273.50,427.60 288.20,428.10 302.70,430.40 317.20,433.00 332.00,435.20" fill="none" stroke="#109090" stroke-width="0.9" stroke-linejoin="round" />
<polyline points="229.60,431.40 244.30,427.20 258.80,425.70 273.50,422.20 288.20,422.20 302.70,424.70 317.20,428.00 332.00,431.00" fill="none" stroke="#ff30ff" stroke-width="0.9" stroke-linejoin="round" />
<polyline points="229.60,420.90 244.30,413.80 258.80,408.80 273.50,403.00 288.20,403.00 302.70,409.70 317.20,416.00 332.00,418.60" fill="none" stroke="#ff2020" stroke-width="0.9" stroke-linejoin="round" />
<polyline points="229.60,378.30 244.30,358.10 258.80,351.00 273.50,341.80 288.20,337.00 302.70,352.00 317.20,377.30 332.00,378.70" fill="none" stroke="#2020ff" stroke-width="0.9" stroke-linejoin="round" />
<rect x="227.35" y="429.15" width="4.5" height="4.5" fill="#ff10ff"/>
<rect x="242.05" y="424.95" width="4.5" height="4.5" fill="#ff10ff"/>
<rect x="256.55" y="423.45" width="4.5" height="4.5" fill="#ff10ff"/>
<rect x="271.25" y="419.95" width="4.5" height="4.5" fill="#ff10ff"/>
<rect x="285.95" y="419.95" width="4.5" height="4.5" fill="#ff10ff"/>
<rect x="300.45" y="422.45" width="4.5" height="4.5" fill="#ff10ff"/>
<rect x="314.95" y="425.75" width="4.5" height="4.5" fill="#ff10ff"/>
<rect x="329.75" y="428.75" width="4.5" height="4.5" fill="#ff10ff"/>
<circle cx="229.60" cy="420.90" r="2.75" fill="#ff1010" />
<circle cx="244.30" cy="413.80" r="2.75" fill="#ff1010" />
<circle cx="258.80" cy="408.80" r="2.75" fill="#ff1010" />
<circle cx="273.50" cy="403.00" r="2.75" fill="#ff1010" />
<circle cx="288.20" cy="403.00" r="2.75" fill="#ff1010" />
<circle cx="302.70" cy="409.70" r="2.75" fill="#ff1010" />
<circle cx="317.20" cy="416.00" r="2.75" fill="#ff1010" />
<circle cx="332.00" cy="418.60" r="2.75" fill="#ff1010" />
<polygon points="229.60,437.54 232.60,432.14 226.60,432.14" fill="#0a8a8a" stroke="none" stroke-width="0" />
<polygon points="244.30,434.24 247.30,428.84 241.30,428.84" fill="#0a8a8a" stroke="none" stroke-width="0" />
<polygon points="258.80,433.14 261.80,427.74 255.80,427.74" fill="#0a8a8a" stroke="none" stroke-width="0" />
<polygon points="273.50,430.84 276.50,425.44 270.50,425.44" fill="#0a8a8a" stroke="none" stroke-width="0" />
<polygon points="288.20,431.34 291.20,425.94 285.20,425.94" fill="#0a8a8a" stroke="none" stroke-width="0" />
<polygon points="302.70,433.64 305.70,428.24 299.70,428.24" fill="#0a8a8a" stroke="none" stroke-width="0" />
<polygon points="317.20,436.24 320.20,430.84 314.20,430.84" fill="#0a8a8a" stroke="none" stroke-width="0" />
<polygon points="332.00,438.44 335.00,433.04 329.00,433.04" fill="#0a8a8a" stroke="none" stroke-width="0" />
<polygon points="229.60,374.95 232.70,380.53 226.50,380.53" fill="#1010ff" stroke="none" stroke-width="0" />
<polygon points="244.30,354.75 247.40,360.33 241.20,360.33" fill="#1010ff" stroke="none" stroke-width="0" />
<polygon points="258.80,347.65 261.90,353.23 255.70,353.23" fill="#1010ff" stroke="none" stroke-width="0" />
<polygon points="273.50,338.45 276.60,344.03 270.40,344.03" fill="#1010ff" stroke="none" stroke-width="0" />
<polygon points="288.20,333.65 291.30,339.23 285.10,339.23" fill="#1010ff" stroke="none" stroke-width="0" />
<polygon points="302.70,348.65 305.80,354.23 299.60,354.23" fill="#1010ff" stroke="none" stroke-width="0" />
<polygon points="317.20,373.95 320.30,379.53 314.10,379.53" fill="#1010ff" stroke="none" stroke-width="0" />
<polygon points="332.00,375.35 335.10,380.93 328.90,380.93" fill="#1010ff" stroke="none" stroke-width="0" />
<rect x="293.6" y="316.9" width="51.8" height="39.3" fill="#fff" stroke="#999" stroke-width="0.7"/>
<line x1="294.50" y1="323.00" x2="310.30" y2="323.00" stroke="#ff10ff" stroke-width="0.9" />
<rect x="300.60" y="321.00" width="4.0" height="4.0" fill="#ff10ff"/>
<text x="312.20" y="325.70" font-size="7.6" fill="#222" stroke="#222" stroke-width="0.1" textLength="32.5" lengthAdjust="spacingAndGlyphs">1x10<tspan font-size="4.2" dy="-3">16</tspan><tspan dy="3"> cm</tspan><tspan font-size="4.2" dy="-3">-2</tspan></text>
<line x1="294.50" y1="332.60" x2="310.30" y2="332.60" stroke="#ff1010" stroke-width="0.9" />
<circle cx="302.60" cy="332.60" r="2.5" fill="#ff1010" />
<text x="312.20" y="335.30" font-size="7.6" fill="#222" stroke="#222" stroke-width="0.1" textLength="32.5" lengthAdjust="spacingAndGlyphs">1x10<tspan font-size="4.2" dy="-3">17</tspan><tspan dy="3"> cm</tspan><tspan font-size="4.2" dy="-3">-2</tspan></text>
<line x1="294.50" y1="342.20" x2="310.30" y2="342.20" stroke="#1010ff" stroke-width="0.9" />
<polygon points="302.60,339.39 305.20,344.07 300.00,344.07" fill="#1010ff" stroke="none" stroke-width="0" />
<text x="312.20" y="344.90" font-size="7.6" fill="#222" stroke="#222" stroke-width="0.1" textLength="32.5" lengthAdjust="spacingAndGlyphs">1x10<tspan font-size="4.2" dy="-3">18</tspan><tspan dy="3"> cm</tspan><tspan font-size="4.2" dy="-3">-2</tspan></text>
<line x1="294.50" y1="351.80" x2="310.30" y2="351.80" stroke="#0a8a8a" stroke-width="0.9" />
<polygon points="302.60,354.50 305.10,350.00 300.10,350.00" fill="#0a8a8a" stroke="none" stroke-width="0" />
<text x="312.20" y="354.50" font-size="7.6" fill="#222" stroke="#222" stroke-width="0.1" textLength="32.5" lengthAdjust="spacingAndGlyphs">5x10<tspan font-size="4.2" dy="-3">18</tspan><tspan dy="3"> cm</tspan><tspan font-size="4.2" dy="-3">-2</tspan></text>
<text x="366.60" y="301.45" font-size="10.3" fill="#25324a" stroke="#25324a" stroke-width="0.2">(i)</text>
<line x1="394.50" y1="317.50" x2="521.00" y2="317.50" stroke="#333" stroke-width="0.9" />
<line x1="394.50" y1="438.10" x2="521.00" y2="438.10" stroke="#333" stroke-width="0.9" />
<line x1="394.50" y1="317.50" x2="394.50" y2="438.10" stroke="#ff5050" stroke-width="0.9" />
<line x1="521.00" y1="317.50" x2="521.00" y2="438.10" stroke="#5050ff" stroke-width="0.9" />
<line x1="395.87" y1="317.50" x2="395.87" y2="318.60" stroke="#333" stroke-width="0.6" />
<line x1="395.87" y1="438.10" x2="395.87" y2="437.00" stroke="#333" stroke-width="0.6" />
<line x1="398.66" y1="317.50" x2="398.66" y2="318.60" stroke="#333" stroke-width="0.6" />
<line x1="398.66" y1="438.10" x2="398.66" y2="437.00" stroke="#333" stroke-width="0.6" />
<line x1="401.07" y1="317.50" x2="401.07" y2="318.60" stroke="#333" stroke-width="0.6" />
<line x1="401.07" y1="438.10" x2="401.07" y2="437.00" stroke="#333" stroke-width="0.6" />
<line x1="403.20" y1="317.50" x2="403.20" y2="318.60" stroke="#333" stroke-width="0.6" />
<line x1="403.20" y1="438.10" x2="403.20" y2="437.00" stroke="#333" stroke-width="0.6" />
<line x1="405.10" y1="317.50" x2="405.10" y2="319.50" stroke="#333" stroke-width="0.6" />
<line x1="405.10" y1="438.10" x2="405.10" y2="436.10" stroke="#333" stroke-width="0.6" />
<line x1="417.62" y1="317.50" x2="417.62" y2="318.60" stroke="#333" stroke-width="0.6" />
<line x1="417.62" y1="438.10" x2="417.62" y2="437.00" stroke="#333" stroke-width="0.6" />
<line x1="424.95" y1="317.50" x2="424.95" y2="318.60" stroke="#333" stroke-width="0.6" />
<line x1="424.95" y1="438.10" x2="424.95" y2="437.00" stroke="#333" stroke-width="0.6" />
<line x1="430.15" y1="317.50" x2="430.15" y2="318.60" stroke="#333" stroke-width="0.6" />
<line x1="430.15" y1="438.10" x2="430.15" y2="437.00" stroke="#333" stroke-width="0.6" />
<line x1="434.18" y1="317.50" x2="434.18" y2="318.60" stroke="#333" stroke-width="0.6" />
<line x1="434.18" y1="438.10" x2="434.18" y2="437.00" stroke="#333" stroke-width="0.6" />
<line x1="437.47" y1="317.50" x2="437.47" y2="318.60" stroke="#333" stroke-width="0.6" />
<line x1="437.47" y1="438.10" x2="437.47" y2="437.00" stroke="#333" stroke-width="0.6" />
<line x1="440.26" y1="317.50" x2="440.26" y2="318.60" stroke="#333" stroke-width="0.6" />
<line x1="440.26" y1="438.10" x2="440.26" y2="437.00" stroke="#333" stroke-width="0.6" />
<line x1="442.67" y1="317.50" x2="442.67" y2="318.60" stroke="#333" stroke-width="0.6" />
<line x1="442.67" y1="438.10" x2="442.67" y2="437.00" stroke="#333" stroke-width="0.6" />
<line x1="444.80" y1="317.50" x2="444.80" y2="318.60" stroke="#333" stroke-width="0.6" />
<line x1="444.80" y1="438.10" x2="444.80" y2="437.00" stroke="#333" stroke-width="0.6" />
<line x1="446.70" y1="317.50" x2="446.70" y2="319.50" stroke="#333" stroke-width="0.6" />
<line x1="446.70" y1="438.10" x2="446.70" y2="436.10" stroke="#333" stroke-width="0.6" />
<line x1="459.22" y1="317.50" x2="459.22" y2="318.60" stroke="#333" stroke-width="0.6" />
<line x1="459.22" y1="438.10" x2="459.22" y2="437.00" stroke="#333" stroke-width="0.6" />
<line x1="466.55" y1="317.50" x2="466.55" y2="318.60" stroke="#333" stroke-width="0.6" />
<line x1="466.55" y1="438.10" x2="466.55" y2="437.00" stroke="#333" stroke-width="0.6" />
<line x1="471.75" y1="317.50" x2="471.75" y2="318.60" stroke="#333" stroke-width="0.6" />
<line x1="471.75" y1="438.10" x2="471.75" y2="437.00" stroke="#333" stroke-width="0.6" />
<line x1="475.78" y1="317.50" x2="475.78" y2="318.60" stroke="#333" stroke-width="0.6" />
<line x1="475.78" y1="438.10" x2="475.78" y2="437.00" stroke="#333" stroke-width="0.6" />
<line x1="479.07" y1="317.50" x2="479.07" y2="318.60" stroke="#333" stroke-width="0.6" />
<line x1="479.07" y1="438.10" x2="479.07" y2="437.00" stroke="#333" stroke-width="0.6" />
<line x1="481.86" y1="317.50" x2="481.86" y2="318.60" stroke="#333" stroke-width="0.6" />
<line x1="481.86" y1="438.10" x2="481.86" y2="437.00" stroke="#333" stroke-width="0.6" />
<line x1="484.27" y1="317.50" x2="484.27" y2="318.60" stroke="#333" stroke-width="0.6" />
<line x1="484.27" y1="438.10" x2="484.27" y2="437.00" stroke="#333" stroke-width="0.6" />
<line x1="486.40" y1="317.50" x2="486.40" y2="318.60" stroke="#333" stroke-width="0.6" />
<line x1="486.40" y1="438.10" x2="486.40" y2="437.00" stroke="#333" stroke-width="0.6" />
<line x1="488.30" y1="317.50" x2="488.30" y2="319.50" stroke="#333" stroke-width="0.6" />
<line x1="488.30" y1="438.10" x2="488.30" y2="436.10" stroke="#333" stroke-width="0.6" />
<line x1="500.82" y1="317.50" x2="500.82" y2="318.60" stroke="#333" stroke-width="0.6" />
<line x1="500.82" y1="438.10" x2="500.82" y2="437.00" stroke="#333" stroke-width="0.6" />
<line x1="508.15" y1="317.50" x2="508.15" y2="318.60" stroke="#333" stroke-width="0.6" />
<line x1="508.15" y1="438.10" x2="508.15" y2="437.00" stroke="#333" stroke-width="0.6" />
<line x1="513.35" y1="317.50" x2="513.35" y2="318.60" stroke="#333" stroke-width="0.6" />
<line x1="513.35" y1="438.10" x2="513.35" y2="437.00" stroke="#333" stroke-width="0.6" />
<line x1="517.38" y1="317.50" x2="517.38" y2="318.60" stroke="#333" stroke-width="0.6" />
<line x1="517.38" y1="438.10" x2="517.38" y2="437.00" stroke="#333" stroke-width="0.6" />
<line x1="520.67" y1="317.50" x2="520.67" y2="318.60" stroke="#333" stroke-width="0.6" />
<line x1="520.67" y1="438.10" x2="520.67" y2="437.00" stroke="#333" stroke-width="0.6" />
<line x1="394.50" y1="427.90" x2="396.70" y2="427.90" stroke="#ff5050" stroke-width="0.7" />
<text x="392.00" y="430.80" font-size="8.3" fill="#ff2a2a" stroke="#ff2a2a" stroke-width="0.3" text-anchor="end">1.2</text>
<line x1="394.50" y1="397.80" x2="396.70" y2="397.80" stroke="#ff5050" stroke-width="0.7" />
<text x="392.00" y="400.70" font-size="8.3" fill="#ff2a2a" stroke="#ff2a2a" stroke-width="0.3" text-anchor="end">1.5</text>
<line x1="394.50" y1="367.70" x2="396.70" y2="367.70" stroke="#ff5050" stroke-width="0.7" />
<text x="392.00" y="370.60" font-size="8.3" fill="#ff2a2a" stroke="#ff2a2a" stroke-width="0.3" text-anchor="end">1.8</text>
<line x1="394.50" y1="337.60" x2="396.70" y2="337.60" stroke="#ff5050" stroke-width="0.7" />
<text x="392.00" y="340.50" font-size="8.3" fill="#ff2a2a" stroke="#ff2a2a" stroke-width="0.3" text-anchor="end">2.1</text>
<line x1="394.50" y1="412.85" x2="395.70" y2="412.85" stroke="#ff5050" stroke-width="0.6" />
<line x1="394.50" y1="382.75" x2="395.70" y2="382.75" stroke="#ff5050" stroke-width="0.6" />
<line x1="394.50" y1="352.65" x2="395.70" y2="352.65" stroke="#ff5050" stroke-width="0.6" />
<line x1="394.50" y1="322.55" x2="395.70" y2="322.55" stroke="#ff5050" stroke-width="0.6" />
<line x1="521.00" y1="424.00" x2="518.80" y2="424.00" stroke="#5050ff" stroke-width="0.7" />
<text x="523.60" y="426.90" font-size="8.3" fill="#2a2aff" stroke="#2a2aff" stroke-width="0.3">0.5</text>
<line x1="521.00" y1="397.40" x2="518.80" y2="397.40" stroke="#5050ff" stroke-width="0.7" />
<text x="523.60" y="400.30" font-size="8.3" fill="#2a2aff" stroke="#2a2aff" stroke-width="0.3">1.0</text>
<line x1="521.00" y1="370.80" x2="518.80" y2="370.80" stroke="#5050ff" stroke-width="0.7" />
<text x="523.60" y="373.70" font-size="8.3" fill="#2a2aff" stroke="#2a2aff" stroke-width="0.3">1.5</text>
<line x1="521.00" y1="344.20" x2="518.80" y2="344.20" stroke="#5050ff" stroke-width="0.7" />
<text x="523.60" y="347.10" font-size="8.3" fill="#2a2aff" stroke="#2a2aff" stroke-width="0.3">2.0</text>
<line x1="521.00" y1="317.60" x2="518.80" y2="317.60" stroke="#5050ff" stroke-width="0.7" />
<text x="523.60" y="320.50" font-size="8.3" fill="#2a2aff" stroke="#2a2aff" stroke-width="0.3">2.5</text>
<line x1="521.00" y1="410.70" x2="519.80" y2="410.70" stroke="#5050ff" stroke-width="0.6" />
<line x1="521.00" y1="384.10" x2="519.80" y2="384.10" stroke="#5050ff" stroke-width="0.6" />
<line x1="521.00" y1="357.50" x2="519.80" y2="357.50" stroke="#5050ff" stroke-width="0.6" />
<line x1="521.00" y1="330.90" x2="519.80" y2="330.90" stroke="#5050ff" stroke-width="0.6" />
<text x="405.10" y="448.30" font-size="8.3" fill="#222" stroke="#222" stroke-width="0.3" text-anchor="middle">1E16</text>
<text x="446.70" y="448.30" font-size="8.3" fill="#222" stroke="#222" stroke-width="0.3" text-anchor="middle">1E17</text>
<text x="488.30" y="448.30" font-size="8.3" fill="#222" stroke="#222" stroke-width="0.3" text-anchor="middle">1E18</text>
<text x="373.4" y="384.2" font-size="9.2" fill="#ff2a2a" stroke="#ff2a2a" stroke-width="0.3" text-anchor="middle" transform="rotate(-90 373.4 384.2)" textLength="96.5" lengthAdjust="spacingAndGlyphs">Detectivity (x10<tspan font-size="6" dy="-3.5">9</tspan><tspan dy="3.5"> Jones)</tspan></text>
<text x="544.8" y="383.5" font-size="9.2" fill="#2a2aff" stroke="#2a2aff" stroke-width="0.3" text-anchor="middle" transform="rotate(-90 544.8 383.5)" textLength="81" lengthAdjust="spacingAndGlyphs">Responsivity (A/W)</text>
<text x="408" y="462.4" font-size="9.2" fill="#222" stroke="#222" stroke-width="0.3" textLength="99.6" lengthAdjust="spacingAndGlyphs">Implantation dose (cm<tspan font-size="6" dy="-4.2">-2</tspan><tspan dy="4.2">)</tspan></text>
<polyline points="405.10,380.70 446.70,370.00 488.30,322.60 517.70,398.10" fill="none" stroke="#ff4040" stroke-width="0.9" stroke-linejoin="round" />
<polyline points="405.10,428.50 446.70,408.40 488.30,339.40 517.70,434.80" fill="none" stroke="#4040ff" stroke-width="0.9" stroke-linejoin="round" />
<polygon points="405.10,377.35 408.20,382.93 402.00,382.93" fill="#ff2a2a" stroke="none" stroke-width="0" />
<polygon points="446.70,366.65 449.80,372.23 443.60,372.23" fill="#ff2a2a" stroke="none" stroke-width="0" />
<polygon points="488.30,319.25 491.40,324.83 485.20,324.83" fill="#ff2a2a" stroke="none" stroke-width="0" />
<polygon points="517.70,394.75 520.80,400.33 514.60,400.33" fill="#ff2a2a" stroke="none" stroke-width="0" />
<rect x="402.80" y="426.20" width="4.6" height="4.6" fill="#2a2aff"/>
<rect x="444.40" y="406.10" width="4.6" height="4.6" fill="#2a2aff"/>
<rect x="486.00" y="337.10" width="4.6" height="4.6" fill="#2a2aff"/>
<rect x="515.40" y="432.50" width="4.6" height="4.6" fill="#2a2aff"/>
<rect x="394.5" y="317.5" width="61.7" height="18.1" fill="#fff" stroke="#999" stroke-width="0.7"/>
<line x1="395.90" y1="322.60" x2="411.40" y2="322.60" stroke="#ff4040" stroke-width="0.9" />
<polygon points="403.80,319.25 406.90,324.83 400.70,324.83" fill="#ff2a2a" stroke="none" stroke-width="0" />
<line x1="395.90" y1="331.30" x2="411.40" y2="331.30" stroke="#4040ff" stroke-width="0.9" />
<rect x="401.50" y="329.00" width="4.6" height="4.6" fill="#2a2aff"/>
<text x="414.10" y="325.40" font-size="7.8" fill="#222" stroke="#222" stroke-width="0.15" textLength="33.5" lengthAdjust="spacingAndGlyphs">Detectivity</text>
<text x="414.10" y="334.10" font-size="7.8" fill="#222" stroke="#222" stroke-width="0.15" textLength="40.8" lengthAdjust="spacingAndGlyphs">Responsivity</text>
<line x1="394.50" y1="317.50" x2="521.00" y2="317.50" stroke="#333" stroke-width="0.9" />
<line x1="394.50" y1="317.50" x2="394.50" y2="438.10" stroke="#ff5050" stroke-width="0.9" />
<line x1="395.87" y1="317.50" x2="395.87" y2="318.60" stroke="#333" stroke-width="0.6" />
<line x1="398.66" y1="317.50" x2="398.66" y2="318.60" stroke="#333" stroke-width="0.6" />
<line x1="401.07" y1="317.50" x2="401.07" y2="318.60" stroke="#333" stroke-width="0.6" />
<line x1="403.20" y1="317.50" x2="403.20" y2="318.60" stroke="#333" stroke-width="0.6" />
<ellipse cx="456.6" cy="358" rx="3.6" ry="5.8" fill="none" stroke="#ff2a2a" stroke-width="0.9"/>
<polyline points="456.00,357.70 440.00,357.70" fill="none" stroke="#ff2a2a" stroke-width="0.9" stroke-linejoin="round" />
<polyline points="442.60,355.60 439.60,357.70 442.60,359.80" fill="none" stroke="#ff2a2a" stroke-width="0.9" stroke-linejoin="round" />
<ellipse cx="456.5" cy="391.1" rx="3.6" ry="5.8" fill="none" stroke="#2a2aff" stroke-width="0.9"/>
<polyline points="457.00,391.10 474.50,391.10" fill="none" stroke="#2a2aff" stroke-width="0.9" stroke-linejoin="round" />
<polyline points="471.80,389.00 474.80,391.10 471.80,393.20" fill="none" stroke="#2a2aff" stroke-width="0.9" stroke-linejoin="round" />
</g>
</svg></body></html>
